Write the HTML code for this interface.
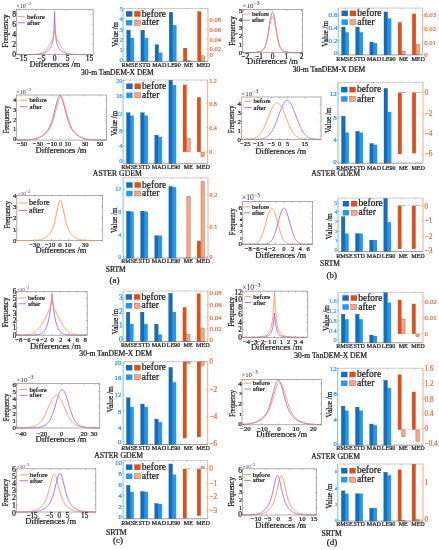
<!DOCTYPE html>
<html lang="en"><head><meta charset="utf-8"><title>DEM differences before and after correction</title>
<style>html,body{margin:0;padding:0;background:#fff}body{width:439px;height:550px;overflow:hidden}svg{display:block}text{font-family:"Liberation Serif","DejaVu Serif",serif;stroke-width:.24px}</style></head><body>
<svg width="439" height="550" viewBox="0 0 439 550">
<rect width="439" height="550" fill="#fff"/>
<polyline points="16.8,54.6 17.3,54.6 17.81,54.6 18.31,54.59 18.81,54.59 19.31,54.59 19.82,54.59 20.32,54.59 20.82,54.59 21.32,54.59 21.83,54.59 22.33,54.59 22.83,54.59 23.33,54.58 23.84,54.58 24.34,54.58 24.84,54.58 25.35,54.57 25.85,54.57 26.35,54.57 26.85,54.56 27.36,54.56 27.86,54.56 28.36,54.55 28.86,54.54 29.37,54.54 29.87,54.53 30.37,54.52 30.87,54.51 31.38,54.5 31.88,54.49 32.38,54.48 32.88,54.46 33.39,54.45 33.89,54.43 34.39,54.41 34.9,54.39 35.4,54.36 35.9,54.33 36.4,54.3 36.91,54.27 37.41,54.23 37.91,54.18 38.41,54.13 38.92,54.08 39.42,54.02 39.92,53.95 40.42,53.87 40.93,53.78 41.43,53.69 41.93,53.58 42.44,53.46 42.94,53.32 43.44,53.17 43.94,53 44.45,52.82 44.95,52.6 45.45,52.37 45.95,52.11 46.46,51.81 46.96,51.48 47.46,51.11 47.96,50.7 48.47,50.24 48.97,49.72 49.47,49.13 49.97,48.47 50.48,47.71 50.98,46.83 51.48,45.78 51.99,44.46 52.49,42.69 52.99,40.12 53.49,36.01 54,28.91 54.35,20.6 54.35,20.6 54.5,15.82 54.6,12 54.6,12 54.85,20.6 54.85,20.6 55,24.61 55.5,33.63 56.01,38.71 56.51,41.78 57.01,43.81 57.51,45.29 58.02,46.43 58.52,47.37 59.02,48.18 59.53,48.87 60.03,49.49 60.53,50.03 61.03,50.52 61.54,50.95 62.04,51.34 62.54,51.68 63.04,51.99 63.55,52.27 64.05,52.51 64.55,52.73 65.05,52.93 65.56,53.11 66.06,53.26 66.56,53.41 67.06,53.53 67.57,53.65 68.07,53.75 68.57,53.84 69.08,53.92 69.58,53.99 70.08,54.05 70.58,54.11 71.09,54.16 71.59,54.21 72.09,54.25 72.59,54.29 73.1,54.32 73.6,54.35 74.1,54.38 74.6,54.4 75.11,54.42 75.61,54.44 76.11,54.46 76.62,54.47 77.12,54.49 77.62,54.5 78.12,54.51 78.63,54.52 79.13,54.53 79.63,54.53 80.13,54.54 80.64,54.55 81.14,54.55 81.64,54.56 82.14,54.56 82.65,54.57 83.15,54.57 83.65,54.57 84.15,54.58 84.66,54.58 85.16,54.58 85.66,54.58 86.17,54.58 86.67,54.59 87.17,54.59 87.67,54.59 88.18,54.59 88.68,54.59 89.18,54.59 89.68,54.59 90.19,54.59 90.69,54.59 91.19,54.59 91.69,54.6 92.2,54.6 92.7,54.6" fill="none" stroke="#9c6ad8" stroke-width="0.9" stroke-linejoin="round"/>
<polyline points="16.8,54.6 17.3,54.6 17.81,54.6 18.31,54.6 18.81,54.6 19.31,54.6 19.82,54.6 20.32,54.6 20.82,54.6 21.32,54.6 21.83,54.6 22.33,54.6 22.83,54.6 23.33,54.6 23.84,54.6 24.34,54.6 24.84,54.6 25.35,54.6 25.85,54.6 26.35,54.6 26.85,54.6 27.36,54.6 27.86,54.6 28.36,54.6 28.86,54.6 29.37,54.6 29.87,54.6 30.37,54.6 30.87,54.6 31.38,54.59 31.88,54.59 32.38,54.59 32.88,54.58 33.39,54.58 33.89,54.57 34.39,54.56 34.9,54.54 35.4,54.53 35.9,54.5 36.4,54.47 36.91,54.44 37.41,54.39 37.91,54.34 38.41,54.27 38.92,54.18 39.42,54.08 39.92,53.96 40.42,53.82 40.93,53.65 41.43,53.45 41.93,53.21 42.44,52.95 42.94,52.64 43.44,52.29 43.94,51.91 44.45,51.47 44.95,51 45.45,50.48 45.95,49.91 46.46,49.31 46.96,48.66 47.46,47.98 47.96,47.27 48.47,46.53 48.97,45.76 49.47,44.97 49.97,44.16 50.48,43.32 50.98,42.44 51.48,41.51 51.99,40.5 52.49,39.36 52.99,38.03 53.49,36.39 54,34.31 54.5,31.57 54.55,31.25 54.55,31.25 54.8,29.5 54.8,29.5 55,30.93 55.05,31.25 55.05,31.25 55.5,33.83 56.01,36.02 56.51,37.73 57.01,39.12 57.51,40.29 58.02,41.32 58.52,42.26 59.02,43.15 59.53,43.99 60.03,44.81 60.53,45.6 61.03,46.37 61.54,47.12 62.04,47.84 62.54,48.53 63.04,49.18 63.55,49.8 64.05,50.37 64.55,50.9 65.05,51.38 65.56,51.82 66.06,52.22 66.56,52.57 67.06,52.89 67.57,53.16 68.07,53.4 68.57,53.61 69.08,53.78 69.58,53.93 70.08,54.06 70.58,54.17 71.09,54.25 71.59,54.32 72.09,54.38 72.59,54.43 73.1,54.47 73.6,54.5 74.1,54.52 74.6,54.54 75.11,54.56 75.61,54.57 76.11,54.57 76.62,54.58 77.12,54.59 77.62,54.59 78.12,54.59 78.63,54.59 79.13,54.6 79.63,54.6 80.13,54.6 80.64,54.6 81.14,54.6 81.64,54.6 82.14,54.6 82.65,54.6 83.15,54.6 83.65,54.6 84.15,54.6 84.66,54.6 85.16,54.6 85.66,54.6 86.17,54.6 86.67,54.6 87.17,54.6 87.67,54.6 88.18,54.6 88.68,54.6 89.18,54.6 89.68,54.6 90.19,54.6 90.69,54.6 91.19,54.6 91.69,54.6 92.2,54.6 92.7,54.6" fill="none" stroke="#fb9058" stroke-width="0.9" stroke-linejoin="round"/>
<rect x="16.3" y="9.3" width="76.9" height="45.3" fill="none" stroke="#8a8a8a" stroke-width="0.7"/>
<path d="M19.5 54.6v-1.6M19.5 9.3v1.6M42.9 54.6v-1.6M42.9 9.3v1.6M54.6 54.6v-1.6M54.6 9.3v1.6M66.3 54.6v-1.6M66.3 9.3v1.6M89.7 54.6v-1.6M89.7 9.3v1.6M16.3 54.6h1.6M93.2 54.6h-1.6M16.3 44.4h1.6M93.2 44.4h-1.6M16.3 34.4h1.6M93.2 34.4h-1.6M16.3 24.4h1.6M93.2 24.4h-1.6M16.3 14.4h1.6M93.2 14.4h-1.6" stroke="#8a8a8a" stroke-width="0.5" fill="none"/>
<text x="21.3" y="60.9" font-size="7.6" fill="#1a1a1a" stroke="#1a1a1a" text-anchor="middle">&#8722;15</text>
<text x="41.4" y="60.9" font-size="7.6" fill="#1a1a1a" stroke="#1a1a1a" text-anchor="middle">&#8722;5</text>
<text x="54.6" y="60.9" font-size="7.6" fill="#1a1a1a" stroke="#1a1a1a" text-anchor="middle">0</text>
<text x="67.7" y="60.9" font-size="7.6" fill="#1a1a1a" stroke="#1a1a1a" text-anchor="middle">5</text>
<text x="89.6" y="60.9" font-size="7.6" fill="#1a1a1a" stroke="#1a1a1a" text-anchor="middle">15</text>
<text x="16" y="57.11" font-size="7.6" fill="#1a1a1a" stroke="#1a1a1a" text-anchor="end">0</text>
<text x="16" y="46.91" font-size="7.6" fill="#1a1a1a" stroke="#1a1a1a" text-anchor="end">2</text>
<text x="16" y="36.91" font-size="7.6" fill="#1a1a1a" stroke="#1a1a1a" text-anchor="end">4</text>
<text x="16" y="26.91" font-size="7.6" fill="#1a1a1a" stroke="#1a1a1a" text-anchor="end">6</text>
<text x="16" y="16.91" font-size="7.6" fill="#1a1a1a" stroke="#1a1a1a" text-anchor="end">8</text>
<text x="55" y="67.2" font-size="8.2" fill="#1a1a1a" stroke="#1a1a1a" text-anchor="middle" textLength="50.91" lengthAdjust="spacingAndGlyphs">Differences /m</text>
<text x="7.7" y="31" font-size="8.96" fill="#1a1a1a" stroke="#1a1a1a" text-anchor="middle" transform="rotate(-90 7.7 31)" textLength="33.6" lengthAdjust="spacingAndGlyphs">Frequency</text>
<text x="16.3" y="7.6" font-size="6" fill="#1a1a1a" text-anchor="start">&#215;10<tspan dy="-2.52" font-size="4.8">&#8722;3</tspan></text>
<path d="M18 16.4h7.2" stroke="#fb9058" stroke-width="0.9"/>
<path d="M18 22.8h7.2" stroke="#9c6ad8" stroke-width="0.9"/>
<text x="27" y="18.5" font-size="7" fill="#1a1a1a" stroke="#1a1a1a" text-anchor="start">before</text>
<text x="27" y="24.9" font-size="7" fill="#1a1a1a" stroke="#1a1a1a" text-anchor="start">after</text>
<rect x="130.35" y="38" width="3.75" height="23.4" fill="#1f9af0"/>
<rect x="126.75" y="30.15" width="3.6" height="31.25" fill="#126dbd" stroke="#0d4f8c" stroke-width="0.3"/>
<rect x="144.5" y="38" width="3.75" height="23.4" fill="#1f9af0"/>
<rect x="140.9" y="30.15" width="3.6" height="31.25" fill="#126dbd" stroke="#0d4f8c" stroke-width="0.3"/>
<rect x="158.65" y="52.6" width="3.75" height="8.8" fill="#1f9af0"/>
<rect x="155.05" y="44.75" width="3.6" height="16.65" fill="#126dbd" stroke="#0d4f8c" stroke-width="0.3"/>
<rect x="172.8" y="25" width="3.75" height="36.4" fill="#1f9af0"/>
<rect x="169.2" y="12.15" width="3.6" height="49.25" fill="#126dbd" stroke="#0d4f8c" stroke-width="0.3"/>
<rect x="183.2" y="48" width="3.75" height="13.4" fill="#df5019"/>
<rect x="187.15" y="60.5" width="3.35" height="0.7" fill="#f4a686" stroke="#a0553a" stroke-width="0.4"/>
<rect x="197.35" y="11.3" width="3.75" height="50.1" fill="#df5019"/>
<rect x="201.3" y="55.8" width="3.35" height="5.4" fill="#f4a686" stroke="#a0553a" stroke-width="0.4"/>
<path d="M123 61.4H208" stroke="#555" stroke-width="0.6" fill="none"/>
<path d="M123 8.5H208" stroke="#9a9a9a" stroke-width="0.5" fill="none"/>
<path d="M123 8.5V61.4" stroke="#3d9be0" stroke-width="0.65" fill="none"/>
<path d="M208 8.5V61.4" stroke="#ee7a4c" stroke-width="0.65" fill="none"/>
<path d="M123 60h1.5M123 50h1.5M123 40h1.5M123 29.5h1.5M123 18.8h1.5M123 8.8h1.5" stroke="#3d9be0" stroke-width="0.5" fill="none"/>
<path d="M208 55h-1.5M208 49.1h-1.5M208 39.4h-1.5M208 29.4h-1.5M208 19.75h-1.5" stroke="#ee7a4c" stroke-width="0.5" fill="none"/>
<path d="M130.35 61.4v-1.3M130.35 8.5v1.3M144.5 61.4v-1.3M144.5 8.5v1.3M158.65 61.4v-1.3M158.65 8.5v1.3M172.8 61.4v-1.3M172.8 8.5v1.3M186.95 61.4v-1.3M186.95 8.5v1.3M201.1 61.4v-1.3M201.1 8.5v1.3" stroke="#777" stroke-width="0.4" fill="none"/>
<text x="123" y="62.24" font-size="6.8" fill="#4aa0e2" stroke="#4aa0e2" text-anchor="end">0</text>
<text x="123" y="52.24" font-size="6.8" fill="#4aa0e2" stroke="#4aa0e2" text-anchor="end">1</text>
<text x="123" y="42.24" font-size="6.8" fill="#4aa0e2" stroke="#4aa0e2" text-anchor="end">2</text>
<text x="123" y="31.74" font-size="6.8" fill="#4aa0e2" stroke="#4aa0e2" text-anchor="end">3</text>
<text x="123" y="21.04" font-size="6.8" fill="#4aa0e2" stroke="#4aa0e2" text-anchor="end">4</text>
<text x="123" y="11.04" font-size="6.8" fill="#4aa0e2" stroke="#4aa0e2" text-anchor="end">5</text>
<text x="209.6" y="57.18" font-size="6.6" fill="#e4703f" stroke="#e4703f" text-anchor="start">0</text>
<text x="209.6" y="51.28" font-size="6.6" fill="#e4703f" stroke="#e4703f" text-anchor="start">0.02</text>
<text x="209.6" y="41.58" font-size="6.6" fill="#e4703f" stroke="#e4703f" text-anchor="start">0.04</text>
<text x="209.6" y="31.58" font-size="6.6" fill="#e4703f" stroke="#e4703f" text-anchor="start">0.06</text>
<text x="209.6" y="21.93" font-size="6.6" fill="#e4703f" stroke="#e4703f" text-anchor="start">0.08</text>
<text x="129.85" y="67.2" font-size="6.1" fill="#1a1a1a" stroke="#1a1a1a" text-anchor="middle">RMSE</text>
<text x="144.55" y="67.2" font-size="6.1" fill="#1a1a1a" stroke="#1a1a1a" text-anchor="middle">STD</text>
<text x="159.25" y="67.2" font-size="6.1" fill="#1a1a1a" stroke="#1a1a1a" text-anchor="middle">MAD</text>
<text x="173.95" y="67.2" font-size="6.1" fill="#1a1a1a" stroke="#1a1a1a" text-anchor="middle">LE90</text>
<text x="188.65" y="67.2" font-size="6.1" fill="#1a1a1a" stroke="#1a1a1a" text-anchor="middle">ME</text>
<text x="203.35" y="67.2" font-size="6.1" fill="#1a1a1a" stroke="#1a1a1a" text-anchor="middle">MED</text>
<text x="118.4" y="34.4" font-size="9.2" fill="#1a1a1a" stroke="#1a1a1a" text-anchor="middle" transform="rotate(-90 118.4 34.4)" textLength="24.85" lengthAdjust="spacingAndGlyphs">Value /m</text>
<rect x="126" y="11.2" width="6.4" height="5.5" fill="#126dbd"/>
<rect x="134.2" y="11.2" width="6.4" height="5.5" fill="#df5019"/>
<rect x="126" y="20" width="6.4" height="5.5" fill="#1f9af0"/>
<rect x="134.4" y="20.2" width="6" height="5.1" fill="#f4a686" stroke="#a0553a" stroke-width="0.4"/>
<text x="141.8" y="16.6" font-size="9.5" fill="#1a1a1a" stroke="#1a1a1a" text-anchor="start">before</text>
<text x="141.8" y="25.4" font-size="9.5" fill="#1a1a1a" stroke="#1a1a1a" text-anchor="start">after</text>
<text x="117.4" y="75.3" font-size="7.6" fill="#1a1a1a" stroke="#1a1a1a" text-anchor="middle">30-m TanDEM-X DEM</text>
<polyline points="16.8,140.08 17.3,140.08 17.8,140.08 18.3,140.07 18.8,140.07 19.3,140.06 19.8,140.06 20.3,140.05 20.8,140.04 21.31,140.04 21.81,140.03 22.31,140.02 22.81,140.01 23.31,139.99 23.81,139.98 24.31,139.96 24.81,139.94 25.31,139.92 25.81,139.9 26.31,139.88 26.81,139.85 27.31,139.82 27.81,139.78 28.31,139.75 28.81,139.71 29.31,139.66 29.81,139.61 30.32,139.56 30.82,139.5 31.32,139.43 31.82,139.36 32.32,139.28 32.82,139.2 33.32,139.11 33.82,139.01 34.32,138.9 34.82,138.79 35.32,138.66 35.82,138.53 36.32,138.38 36.82,138.23 37.32,138.06 37.82,137.88 38.32,137.69 38.82,137.49 39.33,137.27 39.83,137.03 40.33,136.78 40.83,136.52 41.33,136.23 41.83,135.92 42.33,135.6 42.83,135.25 43.33,134.87 43.83,134.47 44.33,134.04 44.83,133.57 45.33,133.07 45.83,132.53 46.33,131.95 46.83,131.32 47.33,130.64 47.83,129.89 48.34,129.09 48.84,128.21 49.34,127.25 49.84,126.21 50.34,125.07 50.84,123.84 51.34,122.5 51.84,121.05 52.34,119.49 52.84,117.82 53.34,116.04 53.84,114.17 54.34,112.21 54.84,110.19 55.34,108.14 55.84,106.08 56.34,104.08 56.84,102.16 57.35,100.39 57.85,98.82 58.35,97.51 58.85,96.49 59.35,95.82 59.75,95.55 59.75,95.55 59.85,95.52 60,95.5 60,95.5 60.25,95.55 60.25,95.55 60.35,95.59 60.85,96.04 61.35,96.85 61.85,97.99 62.35,99.41 62.85,101.07 63.35,102.9 63.85,104.86 64.35,106.89 64.85,108.95 65.35,110.99 65.86,112.99 66.36,114.92 66.86,116.76 67.36,118.49 67.86,120.12 68.36,121.63 68.86,123.04 69.36,124.33 69.86,125.53 70.36,126.63 70.86,127.64 71.36,128.56 71.86,129.41 72.36,130.19 72.86,130.91 73.36,131.58 73.86,132.19 74.36,132.75 74.87,133.28 75.37,133.76 75.87,134.21 76.37,134.63 76.87,135.02 77.37,135.39 77.87,135.73 78.37,136.05 78.87,136.35 79.37,136.62 79.87,136.88 80.37,137.13 80.87,137.36 81.37,137.57 81.87,137.77 82.37,137.95 82.87,138.13 83.37,138.29 83.88,138.44 84.38,138.58 84.88,138.71 85.38,138.83 85.88,138.94 86.38,139.05 86.88,139.14 87.38,139.23 87.88,139.31 88.38,139.39 88.88,139.46 89.38,139.52 89.88,139.58 90.38,139.63 90.88,139.68 91.38,139.72 91.88,139.76 92.38,139.8 92.89,139.83 93.39,139.86 93.89,139.89 94.39,139.91 94.89,139.93 95.39,139.95 95.89,139.97 96.39,139.98 96.89,140 97.39,140.01 97.89,140.02 98.39,140.03 98.89,140.04 99.39,140.05 99.89,140.05 100.39,140.06 100.89,140.07 101.39,140.07 101.9,140.07 102.4,140.08 102.9,140.08 103.4,140.08 103.9,140.09 104.4,140.09 104.9,140.09 105.4,140.09 105.9,140.09" fill="none" stroke="#9c6ad8" stroke-width="0.9" stroke-linejoin="round"/>
<polyline points="16.8,140.09 17.3,140.09 17.8,140.08 18.3,140.08 18.8,140.08 19.3,140.07 19.8,140.07 20.3,140.06 20.8,140.06 21.31,140.05 21.81,140.05 22.31,140.04 22.81,140.03 23.31,140.02 23.81,140.01 24.31,139.99 24.81,139.98 25.31,139.96 25.81,139.95 26.31,139.93 26.81,139.9 27.31,139.88 27.81,139.85 28.31,139.82 28.81,139.79 29.31,139.75 29.81,139.71 30.32,139.67 30.82,139.62 31.32,139.56 31.82,139.5 32.32,139.44 32.82,139.37 33.32,139.29 33.82,139.21 34.32,139.12 34.82,139.02 35.32,138.92 35.82,138.8 36.32,138.68 36.82,138.55 37.32,138.4 37.82,138.25 38.32,138.08 38.82,137.91 39.33,137.72 39.83,137.51 40.33,137.29 40.83,137.06 41.33,136.81 41.83,136.54 42.33,136.26 42.83,135.95 43.33,135.62 43.83,135.27 44.33,134.89 44.83,134.48 45.33,134.05 45.83,133.58 46.33,133.07 46.83,132.53 47.33,131.94 47.83,131.3 48.34,130.6 48.84,129.85 49.34,129.04 49.84,128.15 50.34,127.19 50.84,126.14 51.34,125.01 51.84,123.79 52.34,122.46 52.84,121.04 53.34,119.52 53.84,117.89 54.34,116.18 54.84,114.38 55.34,112.52 55.84,110.62 56.34,108.7 56.84,106.8 57.35,104.96 57.85,103.22 58.35,101.64 58.85,100.25 59.35,99.11 59.85,98.25 60.35,97.71 60.65,97.54 60.65,97.54 60.85,97.5 60.9,97.5 60.9,97.5 61.15,97.54 61.15,97.54 61.35,97.64 61.85,98.12 62.35,98.91 62.85,100 63.35,101.34 63.85,102.89 64.35,104.6 64.85,106.42 65.35,108.32 65.86,110.23 66.36,112.14 66.86,114.01 67.36,115.82 67.86,117.55 68.36,119.2 68.86,120.74 69.36,122.18 69.86,123.53 70.36,124.77 70.86,125.92 71.36,126.99 71.86,127.96 72.36,128.86 72.86,129.69 73.36,130.46 73.86,131.16 74.36,131.81 74.87,132.41 75.37,132.97 75.87,133.48 76.37,133.96 76.87,134.4 77.37,134.81 77.87,135.19 78.37,135.55 78.87,135.89 79.37,136.2 79.87,136.49 80.37,136.76 80.87,137.01 81.37,137.25 81.87,137.47 82.37,137.68 82.87,137.87 83.37,138.05 83.88,138.22 84.38,138.37 84.88,138.52 85.38,138.65 85.88,138.78 86.38,138.89 86.88,139 87.38,139.1 87.88,139.19 88.38,139.28 88.88,139.35 89.38,139.43 89.88,139.49 90.38,139.55 90.88,139.61 91.38,139.66 91.88,139.7 92.38,139.74 92.89,139.78 93.39,139.82 93.89,139.85 94.39,139.87 94.89,139.9 95.39,139.92 95.89,139.94 96.39,139.96 96.89,139.98 97.39,139.99 97.89,140 98.39,140.02 98.89,140.03 99.39,140.04 99.89,140.04 100.39,140.05 100.89,140.06 101.39,140.06 101.9,140.07 102.4,140.07 102.9,140.08 103.4,140.08 103.9,140.08 104.4,140.08 104.9,140.09 105.4,140.09 105.9,140.09" fill="none" stroke="#fb9058" stroke-width="0.9" stroke-linejoin="round"/>
<rect x="16.3" y="95" width="90.1" height="45.1" fill="none" stroke="#8a8a8a" stroke-width="0.7"/>
<path d="M20.4 140.1v-1.6M20.4 95v1.6M36.4 140.1v-1.6M36.4 95v1.6M52.4 140.1v-1.6M52.4 95v1.6M60.4 140.1v-1.6M60.4 95v1.6M68.4 140.1v-1.6M68.4 95v1.6M84.4 140.1v-1.6M84.4 95v1.6M100.4 140.1v-1.6M100.4 95v1.6M16.3 139.3h1.6M106.4 139.3h-1.6M16.3 129.3h1.6M106.4 129.3h-1.6M16.3 119.9h1.6M106.4 119.9h-1.6M16.3 110.3h1.6M106.4 110.3h-1.6M16.3 100.5h1.6M106.4 100.5h-1.6" stroke="#8a8a8a" stroke-width="0.5" fill="none"/>
<text x="22" y="146.4" font-size="6.6" fill="#1a1a1a" stroke="#1a1a1a" text-anchor="middle">&#8722;50</text>
<text x="38" y="146.4" font-size="6.6" fill="#1a1a1a" stroke="#1a1a1a" text-anchor="middle">&#8722;30</text>
<text x="52" y="146.4" font-size="6.6" fill="#1a1a1a" stroke="#1a1a1a" text-anchor="middle">&#8722;10</text>
<text x="60.6" y="146.4" font-size="6.6" fill="#1a1a1a" stroke="#1a1a1a" text-anchor="middle">0</text>
<text x="67.7" y="146.4" font-size="6.6" fill="#1a1a1a" stroke="#1a1a1a" text-anchor="middle">10</text>
<text x="85" y="146.4" font-size="6.6" fill="#1a1a1a" stroke="#1a1a1a" text-anchor="middle">30</text>
<text x="100" y="146.4" font-size="6.6" fill="#1a1a1a" stroke="#1a1a1a" text-anchor="middle">50</text>
<text x="16" y="141.15" font-size="5.6" fill="#1a1a1a" stroke="#1a1a1a" text-anchor="end">0</text>
<text x="16" y="131.15" font-size="5.6" fill="#1a1a1a" stroke="#1a1a1a" text-anchor="end">1</text>
<text x="16" y="121.75" font-size="5.6" fill="#1a1a1a" stroke="#1a1a1a" text-anchor="end">2</text>
<text x="16" y="112.15" font-size="5.6" fill="#1a1a1a" stroke="#1a1a1a" text-anchor="end">3</text>
<text x="16" y="102.35" font-size="5.6" fill="#1a1a1a" stroke="#1a1a1a" text-anchor="end">4</text>
<text x="61" y="152.8" font-size="8.2" fill="#1a1a1a" stroke="#1a1a1a" text-anchor="middle" textLength="50.91" lengthAdjust="spacingAndGlyphs">Differences /m</text>
<text x="9.2" y="119.5" font-size="7.5" fill="#1a1a1a" stroke="#1a1a1a" text-anchor="middle" transform="rotate(-90 9.2 119.5)" textLength="28.14" lengthAdjust="spacingAndGlyphs">Frequency</text>
<text x="16.3" y="93.6" font-size="6" fill="#1a1a1a" text-anchor="start">&#215;10<tspan dy="-2.52" font-size="4.8">&#8722;3</tspan></text>
<path d="M20 100.2h7.6" stroke="#fb9058" stroke-width="0.9"/>
<path d="M20 106.7h7.6" stroke="#9c6ad8" stroke-width="0.9"/>
<text x="29.4" y="102.24" font-size="6.8" fill="#1a1a1a" stroke="#1a1a1a" text-anchor="start">before</text>
<text x="29.4" y="108.74" font-size="6.8" fill="#1a1a1a" stroke="#1a1a1a" text-anchor="start">after</text>
<rect x="130.05" y="115.5" width="3.75" height="48.25" fill="#1f9af0"/>
<rect x="126.45" y="112.75" width="3.6" height="51" fill="#126dbd" stroke="#0d4f8c" stroke-width="0.3"/>
<rect x="144.2" y="115.5" width="3.75" height="48.25" fill="#1f9af0"/>
<rect x="140.6" y="112.75" width="3.6" height="51" fill="#126dbd" stroke="#0d4f8c" stroke-width="0.3"/>
<rect x="158.35" y="136.9" width="3.75" height="26.85" fill="#1f9af0"/>
<rect x="154.75" y="135.25" width="3.6" height="28.5" fill="#126dbd" stroke="#0d4f8c" stroke-width="0.3"/>
<rect x="172.5" y="85" width="3.75" height="78.75" fill="#1f9af0"/>
<rect x="168.9" y="80.15" width="3.6" height="83.6" fill="#126dbd" stroke="#0d4f8c" stroke-width="0.3"/>
<rect x="182.9" y="84.75" width="3.75" height="67.15" fill="#df5019"/>
<rect x="186.85" y="138.6" width="3.35" height="13.1" fill="#f4a686" stroke="#a0553a" stroke-width="0.4"/>
<rect x="197.05" y="97.25" width="3.75" height="54.65" fill="#df5019"/>
<rect x="201" y="152.1" width="3.35" height="4.7" fill="#f4a686" stroke="#a0553a" stroke-width="0.4"/>
<path d="M181.9 151.9H207.6" stroke="#ee7a4c" stroke-width="0.5" stroke-dasharray="0.8 0.8" opacity="0.8"/>
<path d="M123.1 163.75H207.6" stroke="#555" stroke-width="0.6" fill="none"/>
<path d="M123.1 80H207.6" stroke="#9a9a9a" stroke-width="0.5" fill="none"/>
<path d="M123.1 80V163.75" stroke="#3d9be0" stroke-width="0.65" fill="none"/>
<path d="M207.6 80V163.75" stroke="#ee7a4c" stroke-width="0.65" fill="none"/>
<path d="M123.1 161.4h1.5M123.1 146h1.5M123.1 130.5h1.5M123.1 113.9h1.5M123.1 96.4h1.5M123.1 80.5h1.5" stroke="#3d9be0" stroke-width="0.5" fill="none"/>
<path d="M207.6 151.9h-1.5M207.6 127.5h-1.5M207.6 103.5h-1.5M207.6 80.6h-1.5" stroke="#ee7a4c" stroke-width="0.5" fill="none"/>
<path d="M130.05 163.75v-1.3M130.05 80v1.3M144.2 163.75v-1.3M144.2 80v1.3M158.35 163.75v-1.3M158.35 80v1.3M172.5 163.75v-1.3M172.5 80v1.3M186.65 163.75v-1.3M186.65 80v1.3M200.8 163.75v-1.3M200.8 80v1.3" stroke="#777" stroke-width="0.4" fill="none"/>
<text x="122.5" y="163.48" font-size="6.3" fill="#3f9ae3" stroke="#3f9ae3" text-anchor="end">0</text>
<text x="122.5" y="148.08" font-size="6.3" fill="#3f9ae3" stroke="#3f9ae3" text-anchor="end">4</text>
<text x="122.5" y="132.58" font-size="6.3" fill="#3f9ae3" stroke="#3f9ae3" text-anchor="end">8</text>
<text x="122.5" y="115.98" font-size="6.3" fill="#3f9ae3" stroke="#3f9ae3" text-anchor="end">12</text>
<text x="122.5" y="98.48" font-size="6.3" fill="#3f9ae3" stroke="#3f9ae3" text-anchor="end">16</text>
<text x="122.5" y="82.58" font-size="6.3" fill="#3f9ae3" stroke="#3f9ae3" text-anchor="end">20</text>
<text x="209.2" y="153.95" font-size="6.2" fill="#e4703f" stroke="#e4703f" text-anchor="start">0</text>
<text x="209.2" y="129.55" font-size="6.2" fill="#e4703f" stroke="#e4703f" text-anchor="start">0.4</text>
<text x="209.2" y="105.55" font-size="6.2" fill="#e4703f" stroke="#e4703f" text-anchor="start">0.8</text>
<text x="209.2" y="82.65" font-size="6.2" fill="#e4703f" stroke="#e4703f" text-anchor="start">1.2</text>
<text x="129.55" y="169" font-size="6.1" fill="#1a1a1a" stroke="#1a1a1a" text-anchor="middle">RMSE</text>
<text x="144.25" y="169" font-size="6.1" fill="#1a1a1a" stroke="#1a1a1a" text-anchor="middle">STD</text>
<text x="158.95" y="169" font-size="6.1" fill="#1a1a1a" stroke="#1a1a1a" text-anchor="middle">MAD</text>
<text x="173.65" y="169" font-size="6.1" fill="#1a1a1a" stroke="#1a1a1a" text-anchor="middle">LE90</text>
<text x="188.35" y="169" font-size="6.1" fill="#1a1a1a" stroke="#1a1a1a" text-anchor="middle">ME</text>
<text x="203.05" y="169" font-size="6.1" fill="#1a1a1a" stroke="#1a1a1a" text-anchor="middle">MED</text>
<text x="116.9" y="123.25" font-size="9.2" fill="#1a1a1a" stroke="#1a1a1a" text-anchor="middle" transform="rotate(-90 116.9 123.25)" textLength="24.85" lengthAdjust="spacingAndGlyphs">Value /m</text>
<rect x="126.25" y="83.5" width="6.4" height="5.5" fill="#126dbd"/>
<rect x="134.45" y="83.5" width="6.4" height="5.5" fill="#df5019"/>
<rect x="126.25" y="92.6" width="6.4" height="5.5" fill="#1f9af0"/>
<rect x="134.65" y="92.8" width="6" height="5.1" fill="#f4a686" stroke="#a0553a" stroke-width="0.4"/>
<text x="142.05" y="88.9" font-size="9.5" fill="#1a1a1a" stroke="#1a1a1a" text-anchor="start">before</text>
<text x="142.05" y="98" font-size="9.5" fill="#1a1a1a" stroke="#1a1a1a" text-anchor="start">after</text>
<text x="117.3" y="175.9" font-size="7.7" fill="#1a1a1a" stroke="#1a1a1a" text-anchor="middle">ASTER GDEM</text>
<rect x="16.8" y="195.5" width="85.9" height="45" fill="none" stroke="#8a8a8a" stroke-width="0.7"/>
<path d="M34.8 240.5v-1.6M34.8 195.5v1.6M51.6 240.5v-1.6M51.6 195.5v1.6M60 240.5v-1.6M60 195.5v1.6M68.4 240.5v-1.6M68.4 195.5v1.6M85.2 240.5v-1.6M85.2 195.5v1.6M16.8 240.7h1.6M102.7 240.7h-1.6M16.8 229.3h1.6M102.7 229.3h-1.6M16.8 217.9h1.6M102.7 217.9h-1.6M16.8 206.5h1.6M102.7 206.5h-1.6M16.8 195.5h1.6M102.7 195.5h-1.6" stroke="#8a8a8a" stroke-width="0.5" fill="none"/>
<text x="34.6" y="246.8" font-size="6.8" fill="#1a1a1a" stroke="#1a1a1a" text-anchor="middle">&#8722;30</text>
<text x="50" y="246.8" font-size="6.8" fill="#1a1a1a" stroke="#1a1a1a" text-anchor="middle">&#8722;10</text>
<text x="60" y="246.8" font-size="6.8" fill="#1a1a1a" stroke="#1a1a1a" text-anchor="middle">0</text>
<text x="68" y="246.8" font-size="6.8" fill="#1a1a1a" stroke="#1a1a1a" text-anchor="middle">10</text>
<text x="85.2" y="246.8" font-size="6.8" fill="#1a1a1a" stroke="#1a1a1a" text-anchor="middle">30</text>
<text x="16.5" y="242.94" font-size="6.8" fill="#1a1a1a" stroke="#1a1a1a" text-anchor="end">0</text>
<text x="16.5" y="231.54" font-size="6.8" fill="#1a1a1a" stroke="#1a1a1a" text-anchor="end">1</text>
<text x="16.5" y="220.14" font-size="6.8" fill="#1a1a1a" stroke="#1a1a1a" text-anchor="end">2</text>
<text x="16.5" y="208.74" font-size="6.8" fill="#1a1a1a" stroke="#1a1a1a" text-anchor="end">3</text>
<text x="16.5" y="197.74" font-size="6.8" fill="#1a1a1a" stroke="#1a1a1a" text-anchor="end">4</text>
<text x="61" y="252.7" font-size="8.2" fill="#1a1a1a" stroke="#1a1a1a" text-anchor="middle" textLength="50.91" lengthAdjust="spacingAndGlyphs">Differences /m</text>
<text x="9.8" y="214.8" font-size="7.39" fill="#1a1a1a" stroke="#1a1a1a" text-anchor="middle" transform="rotate(-90 9.8 214.8)" textLength="27.72" lengthAdjust="spacingAndGlyphs">Frequency</text>
<text x="18" y="195.4" font-size="5" fill="#1a1a1a" text-anchor="start">&#215;10<tspan dy="-2.1" font-size="4">&#8722;3</tspan></text>
<path d="M18.8 203h8.4" stroke="#fb9058" stroke-width="0.9"/>
<path d="M18.8 210.5h8.4" stroke="#9c6ad8" stroke-width="0.9"/>
<text x="29" y="205.43" font-size="8.1" fill="#1a1a1a" stroke="#1a1a1a" text-anchor="start">before</text>
<text x="29" y="212.93" font-size="8.1" fill="#1a1a1a" stroke="#1a1a1a" text-anchor="start">after</text>
<polyline points="17.3,240.5 17.8,240.5 18.3,240.5 18.81,240.5 19.31,240.5 19.81,240.5 20.31,240.5 20.82,240.5 21.32,240.5 21.82,240.5 22.32,240.5 22.83,240.5 23.33,240.5 23.83,240.5 24.33,240.5 24.84,240.5 25.34,240.49 25.84,240.49 26.34,240.49 26.84,240.49 27.35,240.49 27.85,240.48 28.35,240.48 28.85,240.48 29.36,240.47 29.86,240.47 30.36,240.46 30.86,240.45 31.37,240.44 31.87,240.43 32.37,240.42 32.87,240.4 33.38,240.38 33.88,240.36 34.38,240.34 34.88,240.31 35.39,240.28 35.89,240.24 36.39,240.2 36.89,240.15 37.39,240.09 37.9,240.03 38.4,239.96 38.9,239.88 39.4,239.79 39.91,239.69 40.41,239.58 40.91,239.46 41.41,239.32 41.92,239.17 42.42,239.01 42.92,238.82 43.42,238.62 43.93,238.4 44.43,238.16 44.93,237.9 45.43,237.61 45.93,237.3 46.44,236.95 46.94,236.58 47.44,236.17 47.94,235.72 48.45,235.23 48.95,234.69 49.45,234.09 49.95,233.43 50.46,232.69 50.96,231.87 51.46,230.95 51.96,229.92 52.47,228.77 52.97,227.47 53.47,226.01 53.97,224.38 54.48,222.56 54.98,220.55 55.48,218.37 55.98,216.02 56.48,213.56 56.99,211.03 57.49,208.53 57.99,206.15 58.49,204.02 59,202.27 59.5,201 60,200.31 60.05,200.28 60.05,200.28 60.3,200.2 60.3,200.2 60.5,200.25 60.55,200.28 60.55,200.28 61.01,200.83 61.51,201.99 62.01,203.66 62.51,205.73 63.02,208.06 63.52,210.55 64.02,213.08 64.52,215.56 65.02,217.94 65.53,220.15 66.03,222.19 66.53,224.05 67.03,225.71 67.54,227.2 68.04,228.53 68.54,229.71 69.04,230.77 69.55,231.71 70.05,232.54 70.55,233.3 71.05,233.97 71.56,234.58 72.06,235.13 72.56,235.63 73.06,236.09 73.57,236.51 74.07,236.89 74.57,237.23 75.07,237.55 75.57,237.85 76.08,238.11 76.58,238.36 77.08,238.58 77.58,238.79 78.09,238.97 78.59,239.14 79.09,239.3 79.59,239.43 80.1,239.56 80.6,239.67 81.1,239.77 81.6,239.86 82.11,239.95 82.61,240.02 83.11,240.08 83.61,240.14 84.11,240.19 84.62,240.23 85.12,240.27 85.62,240.3 86.12,240.33 86.63,240.36 87.13,240.38 87.63,240.4 88.13,240.41 88.64,240.43 89.14,240.44 89.64,240.45 90.14,240.46 90.65,240.47 91.15,240.47 91.65,240.48 92.15,240.48 92.66,240.48 93.16,240.49 93.66,240.49 94.16,240.49 94.66,240.49 95.17,240.49 95.67,240.5 96.17,240.5 96.67,240.5 97.18,240.5 97.68,240.5 98.18,240.5 98.68,240.5 99.19,240.5 99.69,240.5 100.19,240.5 100.69,240.5 101.2,240.5 101.7,240.5 102.2,240.5" fill="none" stroke="#fb9058" stroke-width="0.9" stroke-linejoin="round"/>
<rect x="130.05" y="211.5" width="3.75" height="46.6" fill="#1f9af0"/>
<rect x="126.45" y="211.15" width="3.6" height="46.95" fill="#126dbd" stroke="#0d4f8c" stroke-width="0.3"/>
<rect x="144.2" y="211.5" width="3.75" height="46.6" fill="#1f9af0"/>
<rect x="140.6" y="211.15" width="3.6" height="46.95" fill="#126dbd" stroke="#0d4f8c" stroke-width="0.3"/>
<rect x="158.35" y="235.6" width="3.75" height="22.5" fill="#1f9af0"/>
<rect x="154.75" y="235.75" width="3.6" height="22.35" fill="#126dbd" stroke="#0d4f8c" stroke-width="0.3"/>
<rect x="172.5" y="187.1" width="3.75" height="71" fill="#1f9af0"/>
<rect x="168.9" y="186.4" width="3.6" height="71.7" fill="#126dbd" stroke="#0d4f8c" stroke-width="0.3"/>
<path d="M182.9 258.1h3.75" stroke="#888" stroke-width="0.6"/>
<rect x="186.85" y="196.45" width="3.35" height="61.45" fill="#f4a686" stroke="#a0553a" stroke-width="0.4"/>
<rect x="197.05" y="240.9" width="3.75" height="17.2" fill="#df5019"/>
<rect x="201" y="181.45" width="3.35" height="76.45" fill="#f4a686" stroke="#a0553a" stroke-width="0.4"/>
<path d="M123.1 258.1H208" stroke="#555" stroke-width="0.6" fill="none"/>
<path d="M123.1 177.75H208" stroke="#9a9a9a" stroke-width="0.5" fill="none"/>
<path d="M123.1 177.75V258.1" stroke="#3d9be0" stroke-width="0.65" fill="none"/>
<path d="M208 177.75V258.1" stroke="#ee7a4c" stroke-width="0.65" fill="none"/>
<path d="M123.1 256.9h1.5M123.1 235.25h1.5M123.1 211.9h1.5M123.1 189.3h1.5" stroke="#3d9be0" stroke-width="0.5" fill="none"/>
<path d="M208 256.5h-1.5M208 226.5h-1.5M208 194.75h-1.5" stroke="#ee7a4c" stroke-width="0.5" fill="none"/>
<path d="M130.05 258.1v-1.3M130.05 177.75v1.3M144.2 258.1v-1.3M144.2 177.75v1.3M158.35 258.1v-1.3M158.35 177.75v1.3M172.5 258.1v-1.3M172.5 177.75v1.3M186.65 258.1v-1.3M186.65 177.75v1.3M200.8 258.1v-1.3M200.8 177.75v1.3" stroke="#777" stroke-width="0.4" fill="none"/>
<text x="121.3" y="258.88" font-size="6" fill="#3f9ae3" stroke="#3f9ae3" text-anchor="end">0</text>
<text x="121.3" y="237.23" font-size="6" fill="#3f9ae3" stroke="#3f9ae3" text-anchor="end">4</text>
<text x="121.3" y="213.88" font-size="6" fill="#3f9ae3" stroke="#3f9ae3" text-anchor="end">8</text>
<text x="121.3" y="191.28" font-size="6" fill="#3f9ae3" stroke="#3f9ae3" text-anchor="end">12</text>
<text x="209.6" y="258.55" font-size="6.2" fill="#e4703f" stroke="#e4703f" text-anchor="start">0</text>
<text x="209.6" y="228.55" font-size="6.2" fill="#e4703f" stroke="#e4703f" text-anchor="start">0.1</text>
<text x="209.6" y="196.8" font-size="6.2" fill="#e4703f" stroke="#e4703f" text-anchor="start">0.2</text>
<text x="129.55" y="263.4" font-size="6.1" fill="#1a1a1a" stroke="#1a1a1a" text-anchor="middle">RMSE</text>
<text x="144.25" y="263.4" font-size="6.1" fill="#1a1a1a" stroke="#1a1a1a" text-anchor="middle">STD</text>
<text x="158.95" y="263.4" font-size="6.1" fill="#1a1a1a" stroke="#1a1a1a" text-anchor="middle">MAD</text>
<text x="173.65" y="263.4" font-size="6.1" fill="#1a1a1a" stroke="#1a1a1a" text-anchor="middle">LE90</text>
<text x="188.35" y="263.4" font-size="6.1" fill="#1a1a1a" stroke="#1a1a1a" text-anchor="middle">ME</text>
<text x="203.05" y="263.4" font-size="6.1" fill="#1a1a1a" stroke="#1a1a1a" text-anchor="middle">MED</text>
<text x="116.65" y="220.3" font-size="9.2" fill="#1a1a1a" stroke="#1a1a1a" text-anchor="middle" transform="rotate(-90 116.65 220.3)" textLength="25.56" lengthAdjust="spacingAndGlyphs">Value /m</text>
<rect x="126.25" y="182.25" width="6.4" height="5.5" fill="#126dbd"/>
<rect x="134.45" y="182.25" width="6.4" height="5.5" fill="#df5019"/>
<rect x="126.25" y="190.75" width="6.4" height="5.5" fill="#1f9af0"/>
<rect x="134.65" y="190.95" width="6" height="5.1" fill="#f4a686" stroke="#a0553a" stroke-width="0.4"/>
<text x="142.05" y="187.65" font-size="9.5" fill="#1a1a1a" stroke="#1a1a1a" text-anchor="start">before</text>
<text x="142.05" y="196.15" font-size="9.5" fill="#1a1a1a" stroke="#1a1a1a" text-anchor="start">after</text>
<text x="115.8" y="271.8" font-size="7.5" fill="#1a1a1a" stroke="#1a1a1a" text-anchor="middle">SRTM</text>
<text x="114.4" y="283.2" font-size="9" fill="#1a1a1a" stroke="#1a1a1a" text-anchor="middle">(a)</text>
<polyline points="243.1,52.7 243.6,52.7 244.1,52.7 244.6,52.7 245.1,52.7 245.6,52.7 246.11,52.7 246.61,52.7 247.11,52.69 247.61,52.69 248.11,52.69 248.61,52.69 249.11,52.68 249.61,52.68 250.11,52.67 250.61,52.67 251.11,52.66 251.61,52.65 252.12,52.63 252.62,52.62 253.12,52.6 253.62,52.57 254.12,52.54 254.62,52.51 255.12,52.47 255.62,52.42 256.12,52.37 256.62,52.3 257.12,52.23 257.62,52.14 258.13,52.05 258.63,51.94 259.13,51.81 259.63,51.67 260.13,51.51 260.63,51.32 261.13,51.11 261.63,50.85 262.13,50.55 262.63,50.19 263.13,49.73 263.63,49.17 264.14,48.46 264.64,47.57 265.14,46.46 265.64,45.09 266.14,43.41 266.64,41.4 267.14,39.04 267.64,36.35 268.14,33.36 268.64,30.14 269.14,26.8 269.64,23.46 270.15,20.29 270.65,17.44 271.15,15.09 271.65,13.38 272.15,12.4 272.25,12.3 272.25,12.3 272.5,12.2 272.5,12.2 272.65,12.24 272.75,12.3 272.75,12.3 273.15,12.89 273.65,14.32 274.15,16.43 274.65,19.1 275.15,22.16 275.66,25.45 276.16,28.81 276.66,32.09 277.16,35.18 277.66,38 278.16,40.49 278.66,42.64 279.16,44.45 279.66,45.94 280.16,47.16 280.66,48.13 281.16,48.91 281.67,49.52 282.17,50.02 282.67,50.41 283.17,50.74 283.67,51.01 284.17,51.24 284.67,51.44 285.17,51.61 285.67,51.76 286.17,51.89 286.67,52 287.17,52.11 287.68,52.2 288.18,52.27 288.68,52.34 289.18,52.4 289.68,52.45 290.18,52.49 290.68,52.53 291.18,52.56 291.68,52.59 292.18,52.61 292.68,52.63 293.18,52.64 293.69,52.65 294.19,52.66 294.69,52.67 295.19,52.68 295.69,52.68 296.19,52.69 296.69,52.69 297.19,52.69 297.69,52.69 298.19,52.7 298.69,52.7 299.19,52.7 299.7,52.7 300.2,52.7 300.7,52.7 301.2,52.7 301.7,52.7 302.2,52.7" fill="none" stroke="#9c6ad8" stroke-width="0.9" stroke-linejoin="round"/>
<polyline points="243.1,52.7 243.6,52.7 244.1,52.7 244.6,52.7 245.1,52.7 245.6,52.7 246.11,52.7 246.61,52.7 247.11,52.69 247.61,52.69 248.11,52.69 248.61,52.69 249.11,52.69 249.61,52.68 250.11,52.68 250.61,52.67 251.11,52.66 251.61,52.65 252.12,52.64 252.62,52.62 253.12,52.61 253.62,52.58 254.12,52.56 254.62,52.53 255.12,52.49 255.62,52.45 256.12,52.4 256.62,52.34 257.12,52.28 257.62,52.2 258.13,52.11 258.63,52.01 259.13,51.9 259.63,51.77 260.13,51.62 260.63,51.44 261.13,51.24 261.63,50.99 262.13,50.7 262.63,50.34 263.13,49.89 263.63,49.33 264.14,48.64 264.64,47.77 265.14,46.7 265.64,45.38 266.14,43.8 266.64,41.93 267.14,39.76 267.64,37.32 268.14,34.64 268.64,31.79 269.14,28.86 269.64,25.95 270.15,23.21 270.65,20.77 271.15,18.76 271.65,17.3 272.15,16.47 272.25,16.39 272.25,16.39 272.5,16.3 272.5,16.3 272.65,16.33 272.75,16.39 272.75,16.39 273.15,16.89 273.65,18.1 274.15,19.91 274.65,22.19 275.15,24.83 275.66,27.68 276.16,30.62 276.66,33.52 277.16,36.28 277.66,38.82 278.16,41.1 278.66,43.08 279.16,44.78 279.66,46.2 280.16,47.37 280.66,48.31 281.16,49.07 281.67,49.68 282.17,50.17 282.67,50.56 283.17,50.88 283.67,51.14 284.17,51.36 284.67,51.55 285.17,51.71 285.67,51.85 286.17,51.97 286.67,52.07 287.17,52.17 287.68,52.25 288.18,52.32 288.68,52.38 289.18,52.43 289.68,52.48 290.18,52.51 290.68,52.55 291.18,52.57 291.68,52.6 292.18,52.62 292.68,52.63 293.18,52.65 293.69,52.66 294.19,52.67 294.69,52.67 295.19,52.68 295.69,52.68 296.19,52.69 296.69,52.69 297.19,52.69 297.69,52.69 298.19,52.7 298.69,52.7 299.19,52.7 299.7,52.7 300.2,52.7 300.7,52.7 301.2,52.7 301.7,52.7 302.2,52.7" fill="none" stroke="#fb9058" stroke-width="0.9" stroke-linejoin="round"/>
<rect x="242.6" y="9.4" width="60.1" height="43.3" fill="none" stroke="#8a8a8a" stroke-width="0.7"/>
<path d="M243.6 52.7v-1.6M243.6 9.4v1.6M258.1 52.7v-1.6M258.1 9.4v1.6M272.6 52.7v-1.6M272.6 9.4v1.6M287.1 52.7v-1.6M287.1 9.4v1.6M301.6 52.7v-1.6M301.6 9.4v1.6M242.6 53.1h1.6M302.7 53.1h-1.6M242.6 44.6h1.6M302.7 44.6h-1.6M242.6 36.1h1.6M302.7 36.1h-1.6M242.6 27.6h1.6M302.7 27.6h-1.6M242.6 19.3h1.6M302.7 19.3h-1.6M242.6 10.8h1.6M302.7 10.8h-1.6" stroke="#8a8a8a" stroke-width="0.5" fill="none"/>
<text x="245.2" y="59" font-size="7.4" fill="#1a1a1a" stroke="#1a1a1a" text-anchor="middle">&#8722;2</text>
<text x="259" y="59" font-size="7.4" fill="#1a1a1a" stroke="#1a1a1a" text-anchor="middle">&#8722;1</text>
<text x="272.6" y="59" font-size="7.4" fill="#1a1a1a" stroke="#1a1a1a" text-anchor="middle">0</text>
<text x="286.4" y="59" font-size="7.4" fill="#1a1a1a" stroke="#1a1a1a" text-anchor="middle">1</text>
<text x="301.6" y="59" font-size="7.4" fill="#1a1a1a" stroke="#1a1a1a" text-anchor="middle">2</text>
<text x="242.3" y="55.41" font-size="7" fill="#1a1a1a" stroke="#1a1a1a" text-anchor="end">0</text>
<text x="242.3" y="46.91" font-size="7" fill="#1a1a1a" stroke="#1a1a1a" text-anchor="end">1</text>
<text x="242.3" y="38.41" font-size="7" fill="#1a1a1a" stroke="#1a1a1a" text-anchor="end">2</text>
<text x="242.3" y="29.91" font-size="7" fill="#1a1a1a" stroke="#1a1a1a" text-anchor="end">3</text>
<text x="242.3" y="21.61" font-size="7" fill="#1a1a1a" stroke="#1a1a1a" text-anchor="end">4</text>
<text x="242.3" y="13.11" font-size="7" fill="#1a1a1a" stroke="#1a1a1a" text-anchor="end">5</text>
<text x="272.5" y="64.2" font-size="8.2" fill="#1a1a1a" stroke="#1a1a1a" text-anchor="middle" textLength="50.91" lengthAdjust="spacingAndGlyphs">Differences /m</text>
<text x="235.2" y="31" font-size="7.84" fill="#1a1a1a" stroke="#1a1a1a" text-anchor="middle" transform="rotate(-90 235.2 31)" textLength="29.4" lengthAdjust="spacingAndGlyphs">Frequency</text>
<text x="242.6" y="7.5" font-size="7" fill="#1a1a1a" text-anchor="start">&#215;10<tspan dy="-2.94" font-size="5.6">&#8722;3</tspan></text>
<path d="M243.5 14.2h6.7" stroke="#fb9058" stroke-width="0.9"/>
<path d="M243.5 20.2h6.7" stroke="#9c6ad8" stroke-width="0.9"/>
<text x="252" y="16.21" font-size="6.7" fill="#1a1a1a" stroke="#1a1a1a" text-anchor="start">before</text>
<text x="252" y="22.21" font-size="6.7" fill="#1a1a1a" stroke="#1a1a1a" text-anchor="start">after</text>
<rect x="345.15" y="32.25" width="3.75" height="22.65" fill="#1f9af0"/>
<rect x="341.55" y="27.05" width="3.6" height="27.85" fill="#126dbd" stroke="#0d4f8c" stroke-width="0.3"/>
<rect x="359.3" y="32.25" width="3.75" height="22.65" fill="#1f9af0"/>
<rect x="355.7" y="27.05" width="3.6" height="27.85" fill="#126dbd" stroke="#0d4f8c" stroke-width="0.3"/>
<rect x="373.45" y="43.1" width="3.75" height="11.8" fill="#1f9af0"/>
<rect x="369.85" y="42.05" width="3.6" height="12.85" fill="#126dbd" stroke="#0d4f8c" stroke-width="0.3"/>
<rect x="387.6" y="18.3" width="3.75" height="36.6" fill="#1f9af0"/>
<rect x="384" y="11.95" width="3.6" height="42.95" fill="#126dbd" stroke="#0d4f8c" stroke-width="0.3"/>
<rect x="398" y="22.25" width="3.75" height="32.65" fill="#df5019"/>
<rect x="401.95" y="51.2" width="3.35" height="3.5" fill="#f4a686" stroke="#a0553a" stroke-width="0.4"/>
<rect x="412.15" y="13.75" width="3.75" height="41.15" fill="#df5019"/>
<rect x="416.1" y="44.6" width="3.35" height="10.1" fill="#f4a686" stroke="#a0553a" stroke-width="0.4"/>
<path d="M338.25 54.9H422.6" stroke="#555" stroke-width="0.6" fill="none"/>
<path d="M338.25 8.1H422.6" stroke="#9a9a9a" stroke-width="0.5" fill="none"/>
<path d="M338.25 8.1V54.9" stroke="#3d9be0" stroke-width="0.65" fill="none"/>
<path d="M422.6 8.1V54.9" stroke="#ee7a4c" stroke-width="0.65" fill="none"/>
<path d="M338.25 53.1h1.5M338.25 41h1.5M338.25 27.25h1.5M338.25 15h1.5" stroke="#3d9be0" stroke-width="0.5" fill="none"/>
<path d="M422.6 54.4h-1.5M422.6 42.5h-1.5M422.6 28.75h-1.5M422.6 15h-1.5" stroke="#ee7a4c" stroke-width="0.5" fill="none"/>
<path d="M345.15 54.9v-1.3M345.15 8.1v1.3M359.3 54.9v-1.3M359.3 8.1v1.3M373.45 54.9v-1.3M373.45 8.1v1.3M387.6 54.9v-1.3M387.6 8.1v1.3M401.75 54.9v-1.3M401.75 8.1v1.3M415.9 54.9v-1.3M415.9 8.1v1.3" stroke="#777" stroke-width="0.4" fill="none"/>
<text x="337.45" y="55.44" font-size="7.1" fill="#2f8fe0" stroke="#2f8fe0" text-anchor="end">0</text>
<text x="337.45" y="43.34" font-size="7.1" fill="#2f8fe0" stroke="#2f8fe0" text-anchor="end">0.2</text>
<text x="337.45" y="29.59" font-size="7.1" fill="#2f8fe0" stroke="#2f8fe0" text-anchor="end">0.4</text>
<text x="337.45" y="17.34" font-size="7.1" fill="#2f8fe0" stroke="#2f8fe0" text-anchor="end">0.6</text>
<text x="424.2" y="56.64" font-size="6.8" fill="#e4703f" stroke="#e4703f" text-anchor="start">0</text>
<text x="424.2" y="44.74" font-size="6.8" fill="#e4703f" stroke="#e4703f" text-anchor="start">0.01</text>
<text x="424.2" y="30.99" font-size="6.8" fill="#e4703f" stroke="#e4703f" text-anchor="start">0.02</text>
<text x="424.2" y="17.24" font-size="6.8" fill="#e4703f" stroke="#e4703f" text-anchor="start">0.03</text>
<text x="344.65" y="60.7" font-size="6.1" fill="#1a1a1a" stroke="#1a1a1a" text-anchor="middle">RMSE</text>
<text x="359.35" y="60.7" font-size="6.1" fill="#1a1a1a" stroke="#1a1a1a" text-anchor="middle">STD</text>
<text x="374.05" y="60.7" font-size="6.1" fill="#1a1a1a" stroke="#1a1a1a" text-anchor="middle">MAD</text>
<text x="388.75" y="60.7" font-size="6.1" fill="#1a1a1a" stroke="#1a1a1a" text-anchor="middle">LE90</text>
<text x="403.45" y="60.7" font-size="6.1" fill="#1a1a1a" stroke="#1a1a1a" text-anchor="middle">ME</text>
<text x="418.15" y="60.7" font-size="6.1" fill="#1a1a1a" stroke="#1a1a1a" text-anchor="middle">MED</text>
<text x="327.8" y="33.75" font-size="9.2" fill="#1a1a1a" stroke="#1a1a1a" text-anchor="middle" transform="rotate(-90 327.8 33.75)" textLength="25.91" lengthAdjust="spacingAndGlyphs">Value /m</text>
<rect x="341.5" y="10.6" width="6.4" height="5.5" fill="#126dbd"/>
<rect x="349.7" y="10.6" width="6.4" height="5.5" fill="#df5019"/>
<rect x="341.5" y="19.4" width="6.4" height="5.5" fill="#1f9af0"/>
<rect x="349.9" y="19.6" width="6" height="5.1" fill="#f4a686" stroke="#a0553a" stroke-width="0.4"/>
<text x="357.3" y="16" font-size="9.5" fill="#1a1a1a" stroke="#1a1a1a" text-anchor="start">before</text>
<text x="357.3" y="24.8" font-size="9.5" fill="#1a1a1a" stroke="#1a1a1a" text-anchor="start">after</text>
<text x="329" y="72.1" font-size="7.6" fill="#1a1a1a" stroke="#1a1a1a" text-anchor="middle">30-m TanDEM-X DEM</text>
<polyline points="241.8,139.4 242.3,139.4 242.8,139.4 243.3,139.4 243.81,139.4 244.31,139.4 244.81,139.4 245.31,139.4 245.81,139.4 246.31,139.4 246.81,139.4 247.31,139.4 247.82,139.4 248.32,139.4 248.82,139.4 249.32,139.4 249.82,139.4 250.32,139.4 250.82,139.39 251.32,139.39 251.83,139.39 252.33,139.39 252.83,139.38 253.33,139.38 253.83,139.38 254.33,139.37 254.83,139.36 255.33,139.35 255.84,139.34 256.34,139.33 256.84,139.31 257.34,139.29 257.84,139.27 258.34,139.24 258.84,139.21 259.34,139.17 259.85,139.12 260.35,139.07 260.85,139 261.35,138.93 261.85,138.84 262.35,138.74 262.85,138.62 263.35,138.49 263.86,138.34 264.36,138.16 264.86,137.96 265.36,137.73 265.86,137.48 266.36,137.19 266.86,136.87 267.36,136.51 267.87,136.11 268.37,135.66 268.87,135.17 269.37,134.64 269.87,134.05 270.37,133.41 270.87,132.71 271.38,131.96 271.88,131.15 272.38,130.29 272.88,129.36 273.38,128.38 273.88,127.35 274.38,126.26 274.88,125.12 275.39,123.93 275.89,122.7 276.39,121.43 276.89,120.13 277.39,118.8 277.89,117.45 278.39,116.1 278.89,114.74 279.4,113.39 279.9,112.05 280.4,110.74 280.9,109.47 281.4,108.25 281.9,107.08 282.4,105.99 282.9,104.96 283.41,104.03 283.91,103.19 284.41,102.45 284.91,101.83 285.41,101.31 285.91,100.92 286.41,100.66 286.91,100.52 286.95,100.52 287.2,100.5 287.42,100.51 287.45,100.52 287.92,100.63 288.42,100.88 288.92,101.25 289.42,101.75 289.92,102.36 290.42,103.08 290.92,103.91 291.43,104.83 291.93,105.84 292.43,106.93 292.93,108.08 293.43,109.3 293.93,110.57 294.43,111.87 294.94,113.2 295.44,114.55 295.94,115.91 296.44,117.27 296.94,118.61 297.44,119.94 297.94,121.25 298.44,122.52 298.95,123.76 299.45,124.96 299.95,126.1 300.45,127.2 300.95,128.24 301.45,129.23 301.95,130.16 302.45,131.04 302.96,131.85 303.46,132.61 303.96,133.31 304.46,133.96 304.96,134.56 305.46,135.1 305.96,135.6 306.46,136.05 306.97,136.45 307.47,136.82 307.97,137.15 308.47,137.44 308.97,137.7 309.47,137.93 309.97,138.14 310.47,138.31 310.98,138.47 311.48,138.61 311.98,138.73 312.48,138.83 312.98,138.92 313.48,138.99 313.98,139.06 314.48,139.12 314.99,139.16 315.49,139.2 315.99,139.24 316.49,139.27 316.99,139.29 317.49,139.31 317.99,139.33 318.49,139.34 319,139.35 319.5,139.36 320,139.37 320.5,139.37" fill="none" stroke="#9c6ad8" stroke-width="0.9" stroke-linejoin="round"/>
<polyline points="241.8,139.39 242.3,139.39 242.8,139.38 243.3,139.38 243.81,139.38 244.31,139.37 244.81,139.36 245.31,139.35 245.81,139.34 246.31,139.33 246.81,139.31 247.31,139.3 247.82,139.27 248.32,139.25 248.82,139.21 249.32,139.18 249.82,139.13 250.32,139.08 250.82,139.02 251.32,138.94 251.83,138.86 252.33,138.76 252.83,138.65 253.33,138.52 253.83,138.37 254.33,138.2 254.83,138.01 255.33,137.79 255.84,137.54 256.34,137.27 256.84,136.96 257.34,136.61 257.84,136.23 258.34,135.8 258.84,135.33 259.34,134.81 259.85,134.25 260.35,133.64 260.85,132.97 261.35,132.25 261.85,131.48 262.35,130.65 262.85,129.77 263.35,128.84 263.86,127.85 264.36,126.81 264.86,125.72 265.36,124.59 265.86,123.42 266.36,122.22 266.86,120.98 267.36,119.72 267.87,118.45 268.37,117.16 268.87,115.88 269.37,114.6 269.87,113.34 270.37,112.11 270.87,110.91 271.38,109.76 271.88,108.67 272.38,107.64 272.88,106.69 273.38,105.81 273.88,105.03 274.38,104.35 274.88,103.77 275.39,103.31 275.89,102.96 276.39,102.72 276.85,102.62 276.89,102.61 277.1,102.6 277.35,102.62 277.39,102.62 277.89,102.75 278.39,103 278.89,103.37 279.4,103.86 279.9,104.45 280.4,105.15 280.9,105.95 281.4,106.83 281.9,107.8 282.4,108.84 282.9,109.94 283.41,111.1 283.91,112.3 284.41,113.54 284.91,114.8 285.41,116.08 285.91,117.37 286.41,118.65 286.91,119.92 287.42,121.18 287.92,122.41 288.42,123.61 288.92,124.78 289.42,125.9 289.92,126.98 290.42,128.01 290.92,128.99 291.43,129.91 291.93,130.79 292.43,131.61 292.93,132.37 293.43,133.08 293.93,133.74 294.43,134.34 294.94,134.9 295.44,135.41 295.94,135.87 296.44,136.29 296.94,136.67 297.44,137.01 297.94,137.31 298.44,137.58 298.95,137.83 299.45,138.04 299.95,138.23 300.45,138.4 300.95,138.54 301.45,138.67 301.95,138.78 302.45,138.87 302.96,138.96 303.46,139.03 303.96,139.09 304.46,139.14 304.96,139.18 305.46,139.22 305.96,139.25 306.46,139.28 306.97,139.3 307.47,139.32 307.97,139.33 308.47,139.34 308.97,139.36 309.47,139.36 309.97,139.37 310.47,139.38 310.98,139.38 311.48,139.39 311.98,139.39 312.48,139.39 312.98,139.39 313.48,139.39 313.98,139.4 314.48,139.4 314.99,139.4 315.49,139.4 315.99,139.4 316.49,139.4 316.99,139.4 317.49,139.4 317.99,139.4 318.49,139.4 319,139.4 319.5,139.4 320,139.4 320.5,139.4" fill="none" stroke="#fb9058" stroke-width="0.9" stroke-linejoin="round"/>
<rect x="241.3" y="97" width="79.7" height="42.4" fill="none" stroke="#8a8a8a" stroke-width="0.7"/>
<path d="M247 139.4v-1.6M247 97v1.6M258 139.4v-1.6M258 97v1.6M271.4 139.4v-1.6M271.4 97v1.6M279.6 139.4v-1.6M279.6 97v1.6M287.7 139.4v-1.6M287.7 97v1.6M304.7 139.4v-1.6M304.7 97v1.6M241.3 139.4h1.6M321 139.4h-1.6M241.3 130.6h1.6M321 130.6h-1.6M241.3 121.8h1.6M321 121.8h-1.6M241.3 113h1.6M321 113h-1.6M241.3 104.2h1.6M321 104.2h-1.6" stroke="#8a8a8a" stroke-width="0.5" fill="none"/>
<text x="245.3" y="145.7" font-size="6.6" fill="#1a1a1a" stroke="#1a1a1a" text-anchor="middle">&#8722;25</text>
<text x="258.3" y="145.7" font-size="6.6" fill="#1a1a1a" stroke="#1a1a1a" text-anchor="middle">&#8722;15</text>
<text x="271.2" y="145.7" font-size="6.6" fill="#1a1a1a" stroke="#1a1a1a" text-anchor="middle">&#8722;5</text>
<text x="279.6" y="145.7" font-size="6.6" fill="#1a1a1a" stroke="#1a1a1a" text-anchor="middle">0</text>
<text x="287.7" y="145.7" font-size="6.6" fill="#1a1a1a" stroke="#1a1a1a" text-anchor="middle">5</text>
<text x="304.7" y="145.7" font-size="6.6" fill="#1a1a1a" stroke="#1a1a1a" text-anchor="middle">15</text>
<text x="241" y="141.64" font-size="6.8" fill="#1a1a1a" stroke="#1a1a1a" text-anchor="end">0</text>
<text x="241" y="132.84" font-size="6.8" fill="#1a1a1a" stroke="#1a1a1a" text-anchor="end">1</text>
<text x="241" y="124.04" font-size="6.8" fill="#1a1a1a" stroke="#1a1a1a" text-anchor="end">2</text>
<text x="241" y="115.24" font-size="6.8" fill="#1a1a1a" stroke="#1a1a1a" text-anchor="end">3</text>
<text x="241" y="106.44" font-size="6.8" fill="#1a1a1a" stroke="#1a1a1a" text-anchor="end">4</text>
<text x="280.8" y="153.6" font-size="8.2" fill="#1a1a1a" stroke="#1a1a1a" text-anchor="middle" textLength="50.91" lengthAdjust="spacingAndGlyphs">Differences /m</text>
<text x="234.1" y="119.3" font-size="7.39" fill="#1a1a1a" stroke="#1a1a1a" text-anchor="middle" transform="rotate(-90 234.1 119.3)" textLength="27.72" lengthAdjust="spacingAndGlyphs">Frequency</text>
<text x="241.3" y="96.2" font-size="7" fill="#1a1a1a" text-anchor="start">&#215;10<tspan dy="-2.94" font-size="5.6">&#8722;3</tspan></text>
<path d="M243.8 101.4h7.9" stroke="#fb9058" stroke-width="0.9"/>
<path d="M243.8 107.6h7.9" stroke="#9c6ad8" stroke-width="0.9"/>
<text x="253.5" y="103.41" font-size="6.7" fill="#1a1a1a" stroke="#1a1a1a" text-anchor="start">before</text>
<text x="253.5" y="109.61" font-size="6.7" fill="#1a1a1a" stroke="#1a1a1a" text-anchor="start">after</text>
<rect x="345.15" y="132.5" width="3.75" height="30.7" fill="#1f9af0"/>
<rect x="341.55" y="116.15" width="3.6" height="47.05" fill="#126dbd" stroke="#0d4f8c" stroke-width="0.3"/>
<rect x="359.3" y="132.5" width="3.75" height="30.7" fill="#1f9af0"/>
<rect x="355.7" y="131.4" width="3.6" height="31.8" fill="#126dbd" stroke="#0d4f8c" stroke-width="0.3"/>
<rect x="373.45" y="144.7" width="3.75" height="18.5" fill="#1f9af0"/>
<rect x="369.85" y="143.55" width="3.6" height="19.65" fill="#126dbd" stroke="#0d4f8c" stroke-width="0.3"/>
<rect x="387.6" y="111.8" width="3.75" height="51.4" fill="#1f9af0"/>
<rect x="384" y="88.45" width="3.6" height="74.75" fill="#126dbd" stroke="#0d4f8c" stroke-width="0.3"/>
<rect x="398" y="92.5" width="3.75" height="61.5" fill="#df5019"/>
<path d="M401.75 92.5h3.75" stroke="#888" stroke-width="0.6"/>
<rect x="412.15" y="92.5" width="3.75" height="60.9" fill="#df5019"/>
<path d="M415.9 92.5h3.75" stroke="#888" stroke-width="0.6"/>
<path d="M397 92.5H423" stroke="#ee7a4c" stroke-width="0.5" stroke-dasharray="0.8 0.8" opacity="0.8"/>
<path d="M338 163.2H423" stroke="#555" stroke-width="0.6" fill="none"/>
<path d="M338 82.4H423" stroke="#9a9a9a" stroke-width="0.5" fill="none"/>
<path d="M338 82.4V163.2" stroke="#3d9be0" stroke-width="0.65" fill="none"/>
<path d="M423 82.4V163.2" stroke="#ee7a4c" stroke-width="0.65" fill="none"/>
<path d="M338 161.5h1.5M338 140h1.5M338 117.5h1.5M338 93.75h1.5" stroke="#3d9be0" stroke-width="0.5" fill="none"/>
<path d="M423 92.25h-1.5M423 113.1h-1.5M423 133.1h-1.5M423 153.9h-1.5" stroke="#ee7a4c" stroke-width="0.5" fill="none"/>
<path d="M345.15 163.2v-1.3M345.15 82.4v1.3M359.3 163.2v-1.3M359.3 82.4v1.3M373.45 163.2v-1.3M373.45 82.4v1.3M387.6 163.2v-1.3M387.6 82.4v1.3M401.75 163.2v-1.3M401.75 82.4v1.3M415.9 163.2v-1.3M415.9 82.4v1.3" stroke="#777" stroke-width="0.4" fill="none"/>
<text x="336.8" y="163.81" font-size="7" fill="#2f8fe0" stroke="#2f8fe0" text-anchor="end">0</text>
<text x="336.8" y="142.31" font-size="7" fill="#2f8fe0" stroke="#2f8fe0" text-anchor="end">4</text>
<text x="336.8" y="119.81" font-size="7" fill="#2f8fe0" stroke="#2f8fe0" text-anchor="end">8</text>
<text x="336.8" y="96.06" font-size="7" fill="#2f8fe0" stroke="#2f8fe0" text-anchor="end">12</text>
<text x="424.6" y="94.69" font-size="7.4" fill="#e4703f" stroke="#e4703f" text-anchor="start">0</text>
<text x="424.6" y="115.54" font-size="7.4" fill="#e4703f" stroke="#e4703f" text-anchor="start">&#8722;2</text>
<text x="424.6" y="135.54" font-size="7.4" fill="#e4703f" stroke="#e4703f" text-anchor="start">&#8722;4</text>
<text x="424.6" y="156.34" font-size="7.4" fill="#e4703f" stroke="#e4703f" text-anchor="start">&#8722;6</text>
<text x="344.65" y="169.5" font-size="6.1" fill="#1a1a1a" stroke="#1a1a1a" text-anchor="middle">RMSE</text>
<text x="359.35" y="169.5" font-size="6.1" fill="#1a1a1a" stroke="#1a1a1a" text-anchor="middle">STD</text>
<text x="374.05" y="169.5" font-size="6.1" fill="#1a1a1a" stroke="#1a1a1a" text-anchor="middle">MAD</text>
<text x="388.75" y="169.5" font-size="6.1" fill="#1a1a1a" stroke="#1a1a1a" text-anchor="middle">LE90</text>
<text x="403.45" y="169.5" font-size="6.1" fill="#1a1a1a" stroke="#1a1a1a" text-anchor="middle">ME</text>
<text x="418.15" y="169.5" font-size="6.1" fill="#1a1a1a" stroke="#1a1a1a" text-anchor="middle">MED</text>
<text x="331.5" y="120.3" font-size="9.2" fill="#1a1a1a" stroke="#1a1a1a" text-anchor="middle" transform="rotate(-90 331.5 120.3)" textLength="25.56" lengthAdjust="spacingAndGlyphs">Value /m</text>
<rect x="341.1" y="86.9" width="6.4" height="5.5" fill="#126dbd"/>
<rect x="349.3" y="86.9" width="6.4" height="5.5" fill="#df5019"/>
<rect x="341.1" y="96.2" width="6.4" height="5.5" fill="#1f9af0"/>
<rect x="349.5" y="96.4" width="6" height="5.1" fill="#f4a686" stroke="#a0553a" stroke-width="0.4"/>
<text x="356.9" y="92.3" font-size="9.5" fill="#1a1a1a" stroke="#1a1a1a" text-anchor="start">before</text>
<text x="356.9" y="101.6" font-size="9.5" fill="#1a1a1a" stroke="#1a1a1a" text-anchor="start">after</text>
<text x="335.7" y="176.2" font-size="7.7" fill="#1a1a1a" stroke="#1a1a1a" text-anchor="middle">ASTER GDEM</text>
<polyline points="242.8,244.3 243.3,244.3 243.81,244.3 244.31,244.3 244.81,244.3 245.31,244.3 245.82,244.3 246.32,244.3 246.82,244.3 247.33,244.3 247.83,244.3 248.33,244.3 248.83,244.3 249.34,244.3 249.84,244.3 250.34,244.3 250.85,244.3 251.35,244.3 251.85,244.3 252.36,244.3 252.86,244.3 253.36,244.3 253.86,244.3 254.37,244.3 254.87,244.3 255.37,244.3 255.88,244.3 256.38,244.3 256.88,244.3 257.38,244.3 257.89,244.3 258.39,244.3 258.89,244.3 259.4,244.3 259.9,244.29 260.4,244.29 260.9,244.29 261.41,244.28 261.91,244.27 262.41,244.26 262.92,244.25 263.42,244.23 263.92,244.2 264.42,244.17 264.93,244.13 265.43,244.07 265.93,244 266.44,243.91 266.94,243.8 267.44,243.66 267.94,243.48 268.45,243.26 268.95,243 269.45,242.68 269.96,242.29 270.46,241.84 270.96,241.3 271.47,240.67 271.97,239.95 272.47,239.12 272.97,238.18 273.48,237.12 273.98,235.94 274.48,234.64 274.99,233.22 275.49,231.69 275.99,230.05 276.49,228.32 277,226.52 277.5,224.66 278,222.77 278.51,220.87 279.01,219 279.51,217.19 280.01,215.46 280.52,213.85 281.02,212.39 281.52,211.11 282.03,210.04 282.53,209.19 283.03,208.6 283.53,208.27 283.65,208.23 283.9,208.2 284.04,208.21 284.15,208.23 284.54,208.42 285.04,208.89 285.55,209.63 286.05,210.6 286.55,211.78 287.06,213.16 287.56,214.71 288.06,216.39 288.56,218.17 289.07,220.02 289.57,221.91 290.07,223.81 290.58,225.68 291.08,227.52 291.58,229.28 292.08,230.96 292.59,232.54 293.09,234.01 293.59,235.37 294.1,236.6 294.6,237.71 295.1,238.71 295.6,239.59 296.11,240.36 296.61,241.03 297.11,241.61 297.62,242.1 298.12,242.51 298.62,242.86 299.12,243.15 299.63,243.39 300.13,243.58 300.63,243.74 301.14,243.86 301.64,243.96 302.14,244.04 302.64,244.11 303.15,244.15 303.65,244.19 304.15,244.22 304.66,244.24 305.16,244.26 305.66,244.27 306.17,244.28 306.67,244.28 307.17,244.29 307.67,244.29 308.18,244.29 308.68,244.3 309.18,244.3 309.69,244.3 310.19,244.3 310.69,244.3 311.19,244.3 311.7,244.3 312.2,244.3" fill="none" stroke="#9c6ad8" stroke-width="0.9" stroke-linejoin="round"/>
<polyline points="242.8,244.3 243.3,244.3 243.81,244.3 244.31,244.3 244.81,244.3 245.31,244.3 245.82,244.3 246.32,244.3 246.82,244.3 247.33,244.3 247.83,244.29 248.33,244.29 248.83,244.29 249.34,244.28 249.84,244.27 250.34,244.26 250.85,244.25 251.35,244.23 251.85,244.2 252.36,244.17 252.86,244.13 253.36,244.07 253.86,244 254.37,243.91 254.87,243.79 255.37,243.65 255.88,243.47 256.38,243.25 256.88,242.98 257.38,242.66 257.89,242.27 258.39,241.81 258.89,241.27 259.4,240.63 259.9,239.9 260.4,239.07 260.9,238.12 261.41,237.05 261.91,235.86 262.41,234.56 262.92,233.13 263.42,231.59 263.92,229.95 264.42,228.22 264.93,226.41 265.43,224.55 265.93,222.66 266.44,220.76 266.94,218.89 267.44,217.08 267.94,215.35 268.45,213.75 268.95,212.3 269.45,211.04 269.96,209.98 270.46,209.15 270.96,208.57 271.47,208.26 271.55,208.23 271.8,208.2 271.97,208.22 272.05,208.23 272.47,208.44 272.97,208.93 273.48,209.68 273.98,210.66 274.48,211.86 274.99,213.25 275.49,214.81 275.99,216.5 276.49,218.28 277,220.14 277.5,222.03 278,223.92 278.51,225.8 279.01,227.62 279.51,229.38 280.01,231.06 280.52,232.63 281.02,234.1 281.52,235.44 282.03,236.67 282.53,237.78 283.03,238.76 283.53,239.64 284.04,240.4 284.54,241.07 285.04,241.64 285.55,242.12 286.05,242.53 286.55,242.88 287.06,243.16 287.56,243.4 288.06,243.59 288.56,243.75 289.07,243.87 289.57,243.97 290.07,244.05 290.58,244.11 291.08,244.16 291.58,244.19 292.08,244.22 292.59,244.24 293.09,244.26 293.59,244.27 294.1,244.28 294.6,244.28 295.1,244.29 295.6,244.29 296.11,244.29 296.61,244.3 297.11,244.3 297.62,244.3 298.12,244.3 298.62,244.3 299.12,244.3 299.63,244.3 300.13,244.3 300.63,244.3 301.14,244.3 301.64,244.3 302.14,244.3 302.64,244.3 303.15,244.3 303.65,244.3 304.15,244.3 304.66,244.3 305.16,244.3 305.66,244.3 306.17,244.3 306.67,244.3 307.17,244.3 307.67,244.3 308.18,244.3 308.68,244.3 309.18,244.3 309.69,244.3 310.19,244.3 310.69,244.3 311.19,244.3 311.7,244.3 312.2,244.3" fill="none" stroke="#fb9058" stroke-width="0.9" stroke-linejoin="round"/>
<rect x="242.3" y="201.5" width="70.4" height="42.8" fill="none" stroke="#8a8a8a" stroke-width="0.7"/>
<path d="M250.7 244.3v-1.6M250.7 201.5v1.6M259 244.3v-1.6M259 201.5v1.6M267.3 244.3v-1.6M267.3 201.5v1.6M275.6 244.3v-1.6M275.6 201.5v1.6M283.9 244.3v-1.6M283.9 201.5v1.6M292.2 244.3v-1.6M292.2 201.5v1.6M300.5 244.3v-1.6M300.5 201.5v1.6M308.8 244.3v-1.6M308.8 201.5v1.6M242.3 243.6h1.6M312.7 243.6h-1.6M242.3 238h1.6M312.7 238h-1.6M242.3 231.8h1.6M312.7 231.8h-1.6M242.3 225.6h1.6M312.7 225.6h-1.6M242.3 219.4h1.6M312.7 219.4h-1.6M242.3 213.2h1.6M312.7 213.2h-1.6M242.3 207.2h1.6M312.7 207.2h-1.6" stroke="#8a8a8a" stroke-width="0.5" fill="none"/>
<text x="248.2" y="250.5" font-size="6.6" fill="#1a1a1a" stroke="#1a1a1a" text-anchor="middle">&#8722;8</text>
<text x="256" y="250.5" font-size="6.6" fill="#1a1a1a" stroke="#1a1a1a" text-anchor="middle">&#8722;6</text>
<text x="263.8" y="250.5" font-size="6.6" fill="#1a1a1a" stroke="#1a1a1a" text-anchor="middle">&#8722;4</text>
<text x="272" y="250.5" font-size="6.6" fill="#1a1a1a" stroke="#1a1a1a" text-anchor="middle">&#8722;2</text>
<text x="283.9" y="250.5" font-size="6.6" fill="#1a1a1a" stroke="#1a1a1a" text-anchor="middle">0</text>
<text x="292.7" y="250.5" font-size="6.6" fill="#1a1a1a" stroke="#1a1a1a" text-anchor="middle">2</text>
<text x="300.2" y="250.5" font-size="6.6" fill="#1a1a1a" stroke="#1a1a1a" text-anchor="middle">4</text>
<text x="308.2" y="250.5" font-size="6.6" fill="#1a1a1a" stroke="#1a1a1a" text-anchor="middle">6</text>
<text x="242" y="245.91" font-size="7" fill="#1a1a1a" stroke="#1a1a1a" text-anchor="end">0</text>
<text x="242" y="239.52" font-size="4.6" fill="#1a1a1a" stroke="#1a1a1a" text-anchor="end">1</text>
<text x="242" y="233.32" font-size="4.6" fill="#1a1a1a" stroke="#1a1a1a" text-anchor="end">2</text>
<text x="242" y="227.12" font-size="4.6" fill="#1a1a1a" stroke="#1a1a1a" text-anchor="end">3</text>
<text x="242" y="220.92" font-size="4.6" fill="#1a1a1a" stroke="#1a1a1a" text-anchor="end">4</text>
<text x="242" y="214.72" font-size="4.6" fill="#1a1a1a" stroke="#1a1a1a" text-anchor="end">5</text>
<text x="242" y="209.51" font-size="7" fill="#1a1a1a" stroke="#1a1a1a" text-anchor="end">6</text>
<text x="280.8" y="257.6" font-size="8.2" fill="#1a1a1a" stroke="#1a1a1a" text-anchor="middle" textLength="50.91" lengthAdjust="spacingAndGlyphs">Differences /m</text>
<text x="235.2" y="221.7" font-size="7.17" fill="#1a1a1a" stroke="#1a1a1a" text-anchor="middle" transform="rotate(-90 235.2 221.7)" textLength="26.88" lengthAdjust="spacingAndGlyphs">Frequency</text>
<text x="242" y="200" font-size="7.5" fill="#1a1a1a" text-anchor="start">&#215;10<tspan dy="-3.15" font-size="6">&#8722;3</tspan></text>
<path d="M244.2 206.9h6" stroke="#fb9058" stroke-width="0.9"/>
<path d="M244.2 212.8h6" stroke="#9c6ad8" stroke-width="0.9"/>
<text x="252" y="208.91" font-size="6.7" fill="#1a1a1a" stroke="#1a1a1a" text-anchor="start">before</text>
<text x="252" y="214.81" font-size="6.7" fill="#1a1a1a" stroke="#1a1a1a" text-anchor="start">after</text>
<rect x="344.95" y="233.5" width="3.75" height="18.1" fill="#1f9af0"/>
<rect x="341.35" y="216.75" width="3.6" height="34.85" fill="#126dbd" stroke="#0d4f8c" stroke-width="0.3"/>
<rect x="359.1" y="233.5" width="3.75" height="18.1" fill="#1f9af0"/>
<rect x="355.5" y="233.65" width="3.6" height="17.95" fill="#126dbd" stroke="#0d4f8c" stroke-width="0.3"/>
<rect x="373.25" y="240" width="3.75" height="11.6" fill="#1f9af0"/>
<rect x="369.65" y="240.15" width="3.6" height="11.45" fill="#126dbd" stroke="#0d4f8c" stroke-width="0.3"/>
<rect x="387.4" y="222.1" width="3.75" height="29.5" fill="#1f9af0"/>
<rect x="383.8" y="198.25" width="3.6" height="53.35" fill="#126dbd" stroke="#0d4f8c" stroke-width="0.3"/>
<rect x="397.8" y="205.6" width="3.75" height="43.3" fill="#df5019"/>
<path d="M401.55 205.6h3.75" stroke="#888" stroke-width="0.6"/>
<rect x="411.95" y="205.6" width="3.75" height="43.3" fill="#df5019"/>
<path d="M415.7 205.6h3.75" stroke="#888" stroke-width="0.6"/>
<path d="M396.8 205.6H423" stroke="#ee7a4c" stroke-width="0.5" stroke-dasharray="0.8 0.8" opacity="0.8"/>
<path d="M338 251.6H423" stroke="#555" stroke-width="0.6" fill="none"/>
<path d="M338 198.1H423" stroke="#9a9a9a" stroke-width="0.5" fill="none"/>
<path d="M338 198.1V251.6" stroke="#3d9be0" stroke-width="0.65" fill="none"/>
<path d="M423 198.1V251.6" stroke="#ee7a4c" stroke-width="0.65" fill="none"/>
<path d="M338 249.7h1.5M338 240.7h1.5M338 231.4h1.5M338 221.3h1.5M338 211.5h1.5M338 203h1.5" stroke="#3d9be0" stroke-width="0.5" fill="none"/>
<path d="M423 206.3h-1.5M423 220.6h-1.5M423 236.4h-1.5M423 251h-1.5" stroke="#ee7a4c" stroke-width="0.5" fill="none"/>
<path d="M344.95 251.6v-1.3M344.95 198.1v1.3M359.1 251.6v-1.3M359.1 198.1v1.3M373.25 251.6v-1.3M373.25 198.1v1.3M387.4 251.6v-1.3M387.4 198.1v1.3M401.55 251.6v-1.3M401.55 198.1v1.3M415.7 251.6v-1.3M415.7 198.1v1.3" stroke="#777" stroke-width="0.4" fill="none"/>
<text x="337.6" y="251.68" font-size="6" fill="#4aa0e2" stroke="#4aa0e2" text-anchor="end">0</text>
<text x="337.6" y="242.35" font-size="5" fill="#4aa0e2" stroke="#4aa0e2" text-anchor="end">1</text>
<text x="337.6" y="233.05" font-size="5" fill="#4aa0e2" stroke="#4aa0e2" text-anchor="end">2</text>
<text x="337.6" y="222.95" font-size="5" fill="#4aa0e2" stroke="#4aa0e2" text-anchor="end">3</text>
<text x="337.6" y="213.65" font-size="6.5" fill="#4aa0e2" stroke="#4aa0e2" text-anchor="end">4</text>
<text x="337.6" y="205.31" font-size="7" fill="#4aa0e2" stroke="#4aa0e2" text-anchor="end">5</text>
<text x="424.6" y="208.74" font-size="7.4" fill="#e4703f" stroke="#e4703f" text-anchor="start">0</text>
<text x="424.6" y="223.04" font-size="7.4" fill="#e4703f" stroke="#e4703f" text-anchor="start">&#8722;1</text>
<text x="424.6" y="238.84" font-size="7.4" fill="#e4703f" stroke="#e4703f" text-anchor="start">&#8722;2</text>
<text x="424.6" y="253.44" font-size="7.4" fill="#e4703f" stroke="#e4703f" text-anchor="start">&#8722;3</text>
<text x="344.45" y="257.5" font-size="6.1" fill="#1a1a1a" stroke="#1a1a1a" text-anchor="middle">RMSE</text>
<text x="359.15" y="257.5" font-size="6.1" fill="#1a1a1a" stroke="#1a1a1a" text-anchor="middle">STD</text>
<text x="373.85" y="257.5" font-size="6.1" fill="#1a1a1a" stroke="#1a1a1a" text-anchor="middle">MAD</text>
<text x="388.55" y="257.5" font-size="6.1" fill="#1a1a1a" stroke="#1a1a1a" text-anchor="middle">LE90</text>
<text x="403.25" y="257.5" font-size="6.1" fill="#1a1a1a" stroke="#1a1a1a" text-anchor="middle">ME</text>
<text x="417.95" y="257.5" font-size="6.1" fill="#1a1a1a" stroke="#1a1a1a" text-anchor="middle">MED</text>
<text x="331.9" y="226.25" font-size="9.2" fill="#1a1a1a" stroke="#1a1a1a" text-anchor="middle" transform="rotate(-90 331.9 226.25)" textLength="25.91" lengthAdjust="spacingAndGlyphs">Value /m</text>
<rect x="342.75" y="201" width="6.4" height="5.5" fill="#126dbd"/>
<rect x="350.95" y="201" width="6.4" height="5.5" fill="#df5019"/>
<rect x="342.75" y="210" width="6.4" height="5.5" fill="#1f9af0"/>
<rect x="351.15" y="210.2" width="6" height="5.1" fill="#f4a686" stroke="#a0553a" stroke-width="0.4"/>
<text x="358.55" y="206.4" font-size="9.5" fill="#1a1a1a" stroke="#1a1a1a" text-anchor="start">before</text>
<text x="358.55" y="215.4" font-size="9.5" fill="#1a1a1a" stroke="#1a1a1a" text-anchor="start">after</text>
<text x="330" y="266" font-size="7.5" fill="#1a1a1a" stroke="#1a1a1a" text-anchor="middle">SRTM</text>
<text x="331.8" y="277.9" font-size="9" fill="#1a1a1a" stroke="#1a1a1a" text-anchor="middle">(b)</text>
<polyline points="17.1,335.2 17.6,335.2 18.1,335.2 18.6,335.2 19.1,335.2 19.6,335.2 20.1,335.2 20.61,335.2 21.11,335.2 21.61,335.19 22.11,335.19 22.61,335.19 23.11,335.19 23.61,335.19 24.11,335.19 24.61,335.19 25.11,335.18 25.61,335.18 26.11,335.18 26.61,335.18 27.11,335.17 27.62,335.17 28.12,335.16 28.62,335.16 29.12,335.15 29.62,335.14 30.12,335.13 30.62,335.12 31.12,335.11 31.62,335.1 32.12,335.08 32.62,335.06 33.12,335.04 33.62,335.01 34.12,334.98 34.63,334.95 35.13,334.91 35.63,334.86 36.13,334.81 36.63,334.75 37.13,334.68 37.63,334.6 38.13,334.5 38.63,334.39 39.13,334.26 39.63,334.11 40.13,333.94 40.63,333.74 41.13,333.51 41.64,333.24 42.14,332.92 42.64,332.56 43.14,332.15 43.64,331.66 44.14,331.1 44.64,330.45 45.14,329.69 45.64,328.82 46.14,327.81 46.64,326.64 47.14,325.28 47.64,323.7 48.14,321.88 48.65,319.77 49.15,317.32 49.65,314.48 50.15,311.19 50.65,307.38 51.15,302.97 51.65,297.85 51.75,296.73 52,293.8 52.15,295.59 52.25,296.73 52.65,301.01 53.15,305.7 53.65,309.74 54.15,313.22 54.65,316.23 55.15,318.83 55.66,321.07 56.16,323.01 56.66,324.68 57.16,326.12 57.66,327.36 58.16,328.43 58.66,329.36 59.16,330.16 59.66,330.85 60.16,331.45 60.66,331.96 61.16,332.4 61.66,332.79 62.16,333.12 62.67,333.4 63.17,333.65 63.67,333.86 64.17,334.04 64.67,334.2 65.17,334.34 65.67,334.46 66.17,334.56 66.67,334.65 67.17,334.72 67.67,334.79 68.17,334.84 68.67,334.89 69.17,334.94 69.68,334.97 70.18,335 70.68,335.03 71.18,335.05 71.68,335.07 72.18,335.09 72.68,335.11 73.18,335.12 73.68,335.13 74.18,335.14 74.68,335.15 75.18,335.15 75.68,335.16 76.18,335.17 76.69,335.17 77.19,335.17 77.69,335.18 78.19,335.18 78.69,335.18 79.19,335.19 79.69,335.19 80.19,335.19 80.69,335.19 81.19,335.19 81.69,335.19 82.19,335.19 82.69,335.2 83.19,335.2 83.7,335.2 84.2,335.2 84.7,335.2 85.2,335.2 85.7,335.2 86.2,335.2 86.7,335.2" fill="none" stroke="#9c6ad8" stroke-width="0.9" stroke-linejoin="round"/>
<polyline points="17.1,335.19 17.6,335.19 18.1,335.18 18.6,335.18 19.1,335.18 19.6,335.17 20.1,335.16 20.61,335.16 21.11,335.15 21.61,335.14 22.11,335.12 22.61,335.11 23.11,335.09 23.61,335.07 24.11,335.05 24.61,335.02 25.11,334.98 25.61,334.94 26.11,334.9 26.61,334.85 27.11,334.79 27.62,334.72 28.12,334.64 28.62,334.55 29.12,334.46 29.62,334.34 30.12,334.22 30.62,334.08 31.12,333.92 31.62,333.75 32.12,333.55 32.62,333.34 33.12,333.1 33.62,332.85 34.12,332.56 34.63,332.26 35.13,331.92 35.63,331.56 36.13,331.17 36.63,330.75 37.13,330.3 37.63,329.81 38.13,329.29 38.63,328.73 39.13,328.14 39.63,327.51 40.13,326.85 40.63,326.14 41.13,325.39 41.64,324.61 42.14,323.78 42.64,322.92 43.14,322.02 43.64,321.08 44.14,320.12 44.64,319.13 45.14,318.12 45.64,317.1 46.14,316.07 46.64,315.03 47.14,314 47.64,312.97 48.14,311.95 48.65,310.9 49.15,309.82 49.65,308.64 50.15,307.29 50.65,305.63 51.15,303.44 51.65,300.4 51.75,299.64 51.75,299.64 51.75,299.64 52,297.5 52,297.5 52,297.5 52.15,298.84 52.25,299.64 52.25,299.64 52.25,299.64 52.65,302.35 53.15,304.83 53.65,306.67 54.15,308.13 54.65,309.36 55.15,310.48 55.66,311.53 56.16,312.56 56.66,313.59 57.16,314.62 57.66,315.65 58.16,316.69 58.66,317.72 59.16,318.73 59.66,319.73 60.16,320.7 60.66,321.65 61.16,322.56 61.66,323.44 62.16,324.28 62.67,325.08 63.17,325.85 63.67,326.57 64.17,327.25 64.67,327.9 65.17,328.5 65.67,329.07 66.17,329.61 66.67,330.11 67.17,330.57 67.67,331.01 68.17,331.41 68.67,331.78 69.17,332.13 69.68,332.45 70.18,332.74 70.68,333 71.18,333.25 71.68,333.47 72.18,333.67 72.68,333.85 73.18,334.02 73.68,334.16 74.18,334.3 74.68,334.41 75.18,334.52 75.68,334.61 76.18,334.69 76.69,334.76 77.19,334.82 77.69,334.88 78.19,334.93 78.69,334.97 79.19,335 79.69,335.03 80.19,335.06 80.69,335.08 81.19,335.1 81.69,335.12 82.19,335.13 82.69,335.14 83.19,335.15 83.7,335.16 84.2,335.17 84.7,335.17 85.2,335.18 85.7,335.18 86.2,335.19 86.7,335.19" fill="none" stroke="#fb9058" stroke-width="0.9" stroke-linejoin="round"/>
<rect x="16.6" y="291.7" width="70.6" height="43.5" fill="none" stroke="#8a8a8a" stroke-width="0.7"/>
<path d="M18.9 335.2v-1.6M18.9 291.7v1.6M27.2 335.2v-1.6M27.2 291.7v1.6M35.5 335.2v-1.6M35.5 291.7v1.6M43.8 335.2v-1.6M43.8 291.7v1.6M52.1 335.2v-1.6M52.1 291.7v1.6M60.4 335.2v-1.6M60.4 291.7v1.6M68.7 335.2v-1.6M68.7 291.7v1.6M77 335.2v-1.6M77 291.7v1.6M85.3 335.2v-1.6M85.3 291.7v1.6M16.6 335.1h1.6M87.2 335.1h-1.6M16.6 327.8h1.6M87.2 327.8h-1.6M16.6 320.5h1.6M87.2 320.5h-1.6M16.6 313.2h1.6M87.2 313.2h-1.6M16.6 305.9h1.6M87.2 305.9h-1.6M16.6 298.6h1.6M87.2 298.6h-1.6M16.6 291.6h1.6M87.2 291.6h-1.6" stroke="#8a8a8a" stroke-width="0.5" fill="none"/>
<text x="18.8" y="341.6" font-size="6.7" fill="#1a1a1a" stroke="#1a1a1a" text-anchor="middle">&#8722;8</text>
<text x="27" y="341.6" font-size="6.7" fill="#1a1a1a" stroke="#1a1a1a" text-anchor="middle">&#8722;6</text>
<text x="35.6" y="341.6" font-size="6.7" fill="#1a1a1a" stroke="#1a1a1a" text-anchor="middle">&#8722;4</text>
<text x="43.9" y="341.6" font-size="6.7" fill="#1a1a1a" stroke="#1a1a1a" text-anchor="middle">&#8722;2</text>
<text x="52.1" y="341.6" font-size="6.7" fill="#1a1a1a" stroke="#1a1a1a" text-anchor="middle">0</text>
<text x="60.7" y="341.6" font-size="6.7" fill="#1a1a1a" stroke="#1a1a1a" text-anchor="middle">2</text>
<text x="68.9" y="341.6" font-size="6.7" fill="#1a1a1a" stroke="#1a1a1a" text-anchor="middle">4</text>
<text x="77.2" y="341.6" font-size="6.7" fill="#1a1a1a" stroke="#1a1a1a" text-anchor="middle">6</text>
<text x="85.2" y="341.6" font-size="6.7" fill="#1a1a1a" stroke="#1a1a1a" text-anchor="middle">8</text>
<text x="16.3" y="337.51" font-size="7.3" fill="#1a1a1a" stroke="#1a1a1a" text-anchor="end">0</text>
<text x="16.3" y="330.21" font-size="7.3" fill="#1a1a1a" stroke="#1a1a1a" text-anchor="end">1</text>
<text x="16.3" y="322.91" font-size="7.3" fill="#1a1a1a" stroke="#1a1a1a" text-anchor="end">2</text>
<text x="16.3" y="315.61" font-size="7.3" fill="#1a1a1a" stroke="#1a1a1a" text-anchor="end">3</text>
<text x="16.3" y="308.31" font-size="7.3" fill="#1a1a1a" stroke="#1a1a1a" text-anchor="end">4</text>
<text x="16.3" y="301.01" font-size="7.3" fill="#1a1a1a" stroke="#1a1a1a" text-anchor="end">5</text>
<text x="16.3" y="294.01" font-size="7.3" fill="#1a1a1a" stroke="#1a1a1a" text-anchor="end">6</text>
<text x="55.4" y="348.5" font-size="8.2" fill="#1a1a1a" stroke="#1a1a1a" text-anchor="middle" textLength="50.91" lengthAdjust="spacingAndGlyphs">Differences /m</text>
<text x="8.5" y="312.4" font-size="7.95" fill="#1a1a1a" stroke="#1a1a1a" text-anchor="middle" transform="rotate(-90 8.5 312.4)" textLength="29.82" lengthAdjust="spacingAndGlyphs">Frequency</text>
<text x="17" y="290.8" font-size="5" fill="#1a1a1a" text-anchor="start">&#215;10<tspan dy="-2.1" font-size="4">&#8722;3</tspan></text>
<path d="M18.5 297.9h7.7" stroke="#fb9058" stroke-width="0.9"/>
<path d="M18.5 303.8h7.7" stroke="#9c6ad8" stroke-width="0.9"/>
<text x="28" y="299.91" font-size="6.7" fill="#1a1a1a" stroke="#1a1a1a" text-anchor="start">before</text>
<text x="28" y="305.81" font-size="6.7" fill="#1a1a1a" stroke="#1a1a1a" text-anchor="start">after</text>
<rect x="129.85" y="324" width="3.75" height="17.5" fill="#1f9af0"/>
<rect x="126.25" y="312.15" width="3.6" height="29.35" fill="#126dbd" stroke="#0d4f8c" stroke-width="0.3"/>
<rect x="144" y="324" width="3.75" height="17.5" fill="#1f9af0"/>
<rect x="140.4" y="312.15" width="3.6" height="29.35" fill="#126dbd" stroke="#0d4f8c" stroke-width="0.3"/>
<rect x="158.15" y="334.4" width="3.75" height="7.1" fill="#1f9af0"/>
<rect x="154.55" y="324.15" width="3.6" height="17.35" fill="#126dbd" stroke="#0d4f8c" stroke-width="0.3"/>
<rect x="172.3" y="311.9" width="3.75" height="29.6" fill="#1f9af0"/>
<rect x="168.7" y="293.25" width="3.6" height="48.25" fill="#126dbd" stroke="#0d4f8c" stroke-width="0.3"/>
<rect x="182.7" y="307.25" width="3.75" height="34.25" fill="#df5019"/>
<rect x="186.65" y="334.6" width="3.35" height="6.7" fill="#f4a686" stroke="#a0553a" stroke-width="0.4"/>
<rect x="196.85" y="293.5" width="3.75" height="48" fill="#df5019"/>
<rect x="200.8" y="327.95" width="3.35" height="13.35" fill="#f4a686" stroke="#a0553a" stroke-width="0.4"/>
<path d="M123.1 341.5H207.9" stroke="#555" stroke-width="0.6" fill="none"/>
<path d="M123.1 291H207.9" stroke="#9a9a9a" stroke-width="0.5" fill="none"/>
<path d="M123.1 291V341.5" stroke="#3d9be0" stroke-width="0.65" fill="none"/>
<path d="M207.9 291V341.5" stroke="#ee7a4c" stroke-width="0.65" fill="none"/>
<path d="M123.1 339.25h1.5M123.1 326.1h1.5M123.1 312h1.5M123.1 297.75h1.5" stroke="#3d9be0" stroke-width="0.5" fill="none"/>
<path d="M207.9 339.4h-1.5M207.9 328.75h-1.5M207.9 317.25h-1.5M207.9 304.4h-1.5M207.9 292.75h-1.5" stroke="#ee7a4c" stroke-width="0.5" fill="none"/>
<path d="M129.85 341.5v-1.3M129.85 291v1.3M144 341.5v-1.3M144 291v1.3M158.15 341.5v-1.3M158.15 291v1.3M172.3 341.5v-1.3M172.3 291v1.3M186.45 341.5v-1.3M186.45 291v1.3M200.6 341.5v-1.3M200.6 291v1.3" stroke="#777" stroke-width="0.4" fill="none"/>
<text x="122.5" y="341.63" font-size="7.2" fill="#2f8fe0" stroke="#2f8fe0" text-anchor="end">0</text>
<text x="122.5" y="328.48" font-size="7.2" fill="#2f8fe0" stroke="#2f8fe0" text-anchor="end">1</text>
<text x="122.5" y="314.38" font-size="7.2" fill="#2f8fe0" stroke="#2f8fe0" text-anchor="end">2</text>
<text x="122.5" y="300.13" font-size="7.2" fill="#2f8fe0" stroke="#2f8fe0" text-anchor="end">3</text>
<text x="209.5" y="341.71" font-size="7" fill="#e4703f" stroke="#e4703f" text-anchor="start">0</text>
<text x="209.5" y="331.06" font-size="7" fill="#e4703f" stroke="#e4703f" text-anchor="start">0.02</text>
<text x="209.5" y="319.56" font-size="7" fill="#e4703f" stroke="#e4703f" text-anchor="start">0.04</text>
<text x="209.5" y="306.71" font-size="7" fill="#e4703f" stroke="#e4703f" text-anchor="start">0.06</text>
<text x="209.5" y="295.06" font-size="7" fill="#e4703f" stroke="#e4703f" text-anchor="start">0.08</text>
<text x="129.35" y="346.8" font-size="6.1" fill="#1a1a1a" stroke="#1a1a1a" text-anchor="middle">RMSE</text>
<text x="144.05" y="346.8" font-size="6.1" fill="#1a1a1a" stroke="#1a1a1a" text-anchor="middle">STD</text>
<text x="158.75" y="346.8" font-size="6.1" fill="#1a1a1a" stroke="#1a1a1a" text-anchor="middle">MAD</text>
<text x="173.45" y="346.8" font-size="6.1" fill="#1a1a1a" stroke="#1a1a1a" text-anchor="middle">LE90</text>
<text x="188.15" y="346.8" font-size="6.1" fill="#1a1a1a" stroke="#1a1a1a" text-anchor="middle">ME</text>
<text x="202.85" y="346.8" font-size="6.1" fill="#1a1a1a" stroke="#1a1a1a" text-anchor="middle">MED</text>
<text x="118.5" y="321.4" font-size="9.2" fill="#1a1a1a" stroke="#1a1a1a" text-anchor="middle" transform="rotate(-90 118.5 321.4)" textLength="25.56" lengthAdjust="spacingAndGlyphs">Value /m</text>
<rect x="125.7" y="294.25" width="6.4" height="5.5" fill="#126dbd"/>
<rect x="133.9" y="294.25" width="6.4" height="5.5" fill="#df5019"/>
<rect x="125.7" y="303" width="6.4" height="5.5" fill="#1f9af0"/>
<rect x="134.1" y="303.2" width="6" height="5.1" fill="#f4a686" stroke="#a0553a" stroke-width="0.4"/>
<text x="141.5" y="299.65" font-size="9.5" fill="#1a1a1a" stroke="#1a1a1a" text-anchor="start">before</text>
<text x="141.5" y="308.4" font-size="9.5" fill="#1a1a1a" stroke="#1a1a1a" text-anchor="start">after</text>
<text x="115.7" y="356.3" font-size="7.6" fill="#1a1a1a" stroke="#1a1a1a" text-anchor="middle">30-m TanDEM-X DEM</text>
<polyline points="16.8,428 17.3,428 17.8,428 18.31,428 18.81,428 19.31,428 19.81,428 20.32,428 20.82,428 21.32,428 21.82,428 22.33,427.99 22.83,427.99 23.33,427.99 23.83,427.99 24.34,427.99 24.84,427.99 25.34,427.98 25.84,427.98 26.35,427.98 26.85,427.97 27.35,427.97 27.85,427.96 28.36,427.96 28.86,427.95 29.36,427.94 29.86,427.93 30.37,427.92 30.87,427.91 31.37,427.9 31.87,427.88 32.38,427.86 32.88,427.84 33.38,427.82 33.88,427.8 34.39,427.77 34.89,427.74 35.39,427.7 35.89,427.66 36.4,427.62 36.9,427.57 37.4,427.52 37.9,427.46 38.4,427.4 38.91,427.32 39.41,427.24 39.91,427.15 40.41,427.06 40.92,426.95 41.42,426.82 41.92,426.69 42.42,426.54 42.93,426.37 43.43,426.18 43.93,425.96 44.43,425.72 44.94,425.45 45.44,425.15 45.94,424.8 46.44,424.42 46.95,423.98 47.45,423.49 47.95,422.93 48.45,422.32 48.96,421.62 49.46,420.85 49.96,420 50.46,419.06 50.97,418.03 51.47,416.91 51.97,415.69 52.47,414.38 52.98,412.99 53.48,411.51 53.98,409.95 54.48,408.34 54.99,406.67 55.49,404.97 55.99,403.25 56.49,401.54 57,399.86 57.5,398.23 58,396.67 58.5,395.22 59,393.89 59.51,392.7 60.01,391.68 60.51,390.85 61.01,390.22 61.52,389.81 61.95,389.63 61.95,389.63 62.02,389.61 62.2,389.6 62.2,389.6 62.45,389.63 62.45,389.63 62.52,389.65 63.02,389.9 63.53,390.38 64.03,391.07 64.53,391.95 65.03,393.02 65.54,394.25 66.04,395.62 66.54,397.1 67.04,398.68 67.55,400.33 68.05,402.02 68.55,403.74 69.05,405.45 69.56,407.14 70.06,408.8 70.56,410.4 71.06,411.93 71.57,413.39 72.07,414.76 72.57,416.04 73.07,417.23 73.58,418.33 74.08,419.34 74.58,420.25 75.08,421.08 75.59,421.83 76.09,422.5 76.59,423.1 77.09,423.63 77.6,424.11 78.1,424.53 78.6,424.9 79.1,425.24 79.6,425.53 80.11,425.79 80.61,426.03 81.11,426.23 81.61,426.42 82.12,426.58 82.62,426.73 83.12,426.86 83.62,426.98 84.13,427.08 84.63,427.18 85.13,427.27 85.63,427.34 86.14,427.41 86.64,427.48 87.14,427.54 87.64,427.59 88.15,427.63 88.65,427.68 89.15,427.71 89.65,427.75 90.16,427.78 90.66,427.8 91.16,427.83 91.66,427.85 92.17,427.87 92.67,427.89 93.17,427.9 93.67,427.91 94.18,427.93 94.68,427.94 95.18,427.94 95.68,427.95 96.19,427.96 96.69,427.97 97.19,427.97 97.69,427.97 98.2,427.98 98.7,427.98 99.2,427.98" fill="none" stroke="#9c6ad8" stroke-width="0.9" stroke-linejoin="round"/>
<polyline points="16.8,427.94 17.3,427.93 17.8,427.92 18.31,427.91 18.81,427.9 19.31,427.89 19.81,427.87 20.32,427.86 20.82,427.84 21.32,427.83 21.82,427.81 22.33,427.79 22.83,427.76 23.33,427.74 23.83,427.71 24.34,427.68 24.84,427.65 25.34,427.61 25.84,427.58 26.35,427.53 26.85,427.49 27.35,427.44 27.85,427.39 28.36,427.33 28.86,427.27 29.36,427.2 29.86,427.12 30.37,427.04 30.87,426.95 31.37,426.85 31.87,426.75 32.38,426.63 32.88,426.5 33.38,426.36 33.88,426.21 34.39,426.03 34.89,425.85 35.39,425.64 35.89,425.41 36.4,425.16 36.9,424.89 37.4,424.58 37.9,424.25 38.4,423.88 38.91,423.48 39.41,423.04 39.91,422.55 40.41,422.03 40.92,421.46 41.42,420.84 41.92,420.17 42.42,419.46 42.93,418.69 43.43,417.87 43.93,416.99 44.43,416.07 44.94,415.1 45.44,414.09 45.94,413.03 46.44,411.93 46.95,410.81 47.45,409.65 47.95,408.48 48.45,407.3 48.96,406.12 49.46,404.95 49.96,403.8 50.46,402.67 50.97,401.59 51.47,400.55 51.97,399.58 52.47,398.68 52.98,397.86 53.48,397.14 53.98,396.51 54.48,396 54.99,395.59 55.49,395.31 55.99,395.14 56.15,395.12 56.15,395.12 56.4,395.1 56.4,395.1 56.49,395.1 56.65,395.12 56.65,395.12 57,395.19 57.5,395.4 58,395.73 58.5,396.17 59,396.73 59.51,397.4 60.01,398.16 60.51,399.01 61.01,399.93 61.52,400.93 62.02,401.98 62.52,403.08 63.02,404.22 63.53,405.38 64.03,406.56 64.53,407.74 65.03,408.92 65.54,410.08 66.04,411.23 66.54,412.34 67.04,413.42 67.55,414.47 68.05,415.46 68.55,416.42 69.05,417.32 69.56,418.17 70.06,418.98 70.56,419.73 71.06,420.42 71.57,421.07 72.07,421.67 72.57,422.23 73.07,422.74 73.58,423.2 74.08,423.63 74.58,424.02 75.08,424.37 75.59,424.7 76.09,424.99 76.59,425.26 77.09,425.5 77.6,425.72 78.1,425.92 78.6,426.1 79.1,426.26 79.6,426.41 80.11,426.55 80.61,426.67 81.11,426.79 81.61,426.89 82.12,426.98 82.62,427.07 83.12,427.15 83.62,427.22 84.13,427.29 84.63,427.35 85.13,427.41 85.63,427.46 86.14,427.51 86.64,427.55 87.14,427.59 87.64,427.63 88.15,427.66 88.65,427.69 89.15,427.72 89.65,427.75 90.16,427.77 90.66,427.79 91.16,427.81 91.66,427.83 92.17,427.85 92.67,427.87 93.17,427.88 93.67,427.89 94.18,427.9 94.68,427.91 95.18,427.92 95.68,427.93 96.19,427.94 96.69,427.95 97.19,427.95 97.69,427.96 98.2,427.96 98.7,427.97 99.2,427.97" fill="none" stroke="#fb9058" stroke-width="0.9" stroke-linejoin="round"/>
<rect x="16.3" y="383.6" width="83.4" height="44.4" fill="none" stroke="#8a8a8a" stroke-width="0.7"/>
<path d="M16.8 428v-1.6M16.8 383.6v1.6M39.1 428v-1.6M39.1 383.6v1.6M61.4 428v-1.6M61.4 383.6v1.6M83.7 428v-1.6M83.7 383.6v1.6M94.8 428v-1.6M94.8 383.6v1.6M16.3 428.2h1.6M99.7 428.2h-1.6M16.3 420.9h1.6M99.7 420.9h-1.6M16.3 413.6h1.6M99.7 413.6h-1.6M16.3 406.3h1.6M99.7 406.3h-1.6M16.3 399h1.6M99.7 399h-1.6M16.3 391.7h1.6M99.7 391.7h-1.6M16.3 384.5h1.6M99.7 384.5h-1.6" stroke="#8a8a8a" stroke-width="0.5" fill="none"/>
<text x="21" y="435.6" font-size="7" fill="#1a1a1a" stroke="#1a1a1a" text-anchor="middle">&#8722;40</text>
<text x="41.9" y="435.6" font-size="7" fill="#1a1a1a" stroke="#1a1a1a" text-anchor="middle">&#8722;20</text>
<text x="61.4" y="435.6" font-size="7" fill="#1a1a1a" stroke="#1a1a1a" text-anchor="middle">0</text>
<text x="84" y="435.6" font-size="7" fill="#1a1a1a" stroke="#1a1a1a" text-anchor="middle">20</text>
<text x="94" y="435.6" font-size="7" fill="#1a1a1a" stroke="#1a1a1a" text-anchor="middle">30</text>
<text x="16" y="430.48" font-size="6.9" fill="#1a1a1a" stroke="#1a1a1a" text-anchor="end">0</text>
<text x="16" y="423.18" font-size="6.9" fill="#1a1a1a" stroke="#1a1a1a" text-anchor="end">1</text>
<text x="16" y="415.88" font-size="6.9" fill="#1a1a1a" stroke="#1a1a1a" text-anchor="end">2</text>
<text x="16" y="408.58" font-size="6.9" fill="#1a1a1a" stroke="#1a1a1a" text-anchor="end">3</text>
<text x="16" y="401.28" font-size="6.9" fill="#1a1a1a" stroke="#1a1a1a" text-anchor="end">4</text>
<text x="16" y="393.98" font-size="6.9" fill="#1a1a1a" stroke="#1a1a1a" text-anchor="end">5</text>
<text x="16" y="386.78" font-size="6.9" fill="#1a1a1a" stroke="#1a1a1a" text-anchor="end">6</text>
<text x="61" y="442.2" font-size="8.2" fill="#1a1a1a" stroke="#1a1a1a" text-anchor="middle" textLength="50.91" lengthAdjust="spacingAndGlyphs">Differences /m</text>
<text x="9.1" y="407.5" font-size="7.28" fill="#1a1a1a" stroke="#1a1a1a" text-anchor="middle" transform="rotate(-90 9.1 407.5)" textLength="27.3" lengthAdjust="spacingAndGlyphs">Frequency</text>
<text x="16.6" y="382.3" font-size="7" fill="#1a1a1a" text-anchor="start">&#215;10<tspan dy="-2.94" font-size="5.6">&#8722;3</tspan></text>
<path d="M19.4 389.5h8.2" stroke="#fb9058" stroke-width="0.9"/>
<path d="M19.4 395.4h8.2" stroke="#9c6ad8" stroke-width="0.9"/>
<text x="29.4" y="391.56" font-size="6.85" fill="#1a1a1a" stroke="#1a1a1a" text-anchor="start">before</text>
<text x="29.4" y="397.45" font-size="6.85" fill="#1a1a1a" stroke="#1a1a1a" text-anchor="start">after</text>
<rect x="130.05" y="406.9" width="3.75" height="37.6" fill="#1f9af0"/>
<rect x="126.45" y="397.75" width="3.6" height="46.75" fill="#126dbd" stroke="#0d4f8c" stroke-width="0.3"/>
<rect x="144.2" y="406.9" width="3.75" height="37.6" fill="#1f9af0"/>
<rect x="140.6" y="404.05" width="3.6" height="40.45" fill="#126dbd" stroke="#0d4f8c" stroke-width="0.3"/>
<rect x="158.35" y="422.2" width="3.75" height="22.3" fill="#1f9af0"/>
<rect x="154.75" y="419.05" width="3.6" height="25.45" fill="#126dbd" stroke="#0d4f8c" stroke-width="0.3"/>
<rect x="172.5" y="382.25" width="3.75" height="62.25" fill="#1f9af0"/>
<rect x="168.9" y="367.4" width="3.6" height="77.1" fill="#126dbd" stroke="#0d4f8c" stroke-width="0.3"/>
<rect x="182.9" y="361.6" width="3.75" height="76.6" fill="#df5019"/>
<rect x="186.85" y="361.8" width="3.35" height="2" fill="#f4a686" stroke="#a0553a" stroke-width="0.4"/>
<rect x="197.05" y="361.6" width="3.75" height="75.4" fill="#df5019"/>
<rect x="201" y="361.8" width="3.35" height="3.6" fill="#f4a686" stroke="#a0553a" stroke-width="0.4"/>
<path d="M123.1 444.5H207.7" stroke="#555" stroke-width="0.6" fill="none"/>
<path d="M123.1 361.6H207.7" stroke="#9a9a9a" stroke-width="0.5" fill="none"/>
<path d="M123.1 361.6V444.5" stroke="#3d9be0" stroke-width="0.65" fill="none"/>
<path d="M207.7 361.6V444.5" stroke="#ee7a4c" stroke-width="0.65" fill="none"/>
<path d="M123.1 441.5h1.5M123.1 427.7h1.5M123.1 411.4h1.5M123.1 395.1h1.5M123.1 378h1.5M123.1 363h1.5" stroke="#3d9be0" stroke-width="0.5" fill="none"/>
<path d="M207.7 362h-1.5M207.7 389.4h-1.5M207.7 416.9h-1.5M207.7 443.5h-1.5" stroke="#ee7a4c" stroke-width="0.5" fill="none"/>
<path d="M130.05 444.5v-1.3M130.05 361.6v1.3M144.2 444.5v-1.3M144.2 361.6v1.3M158.35 444.5v-1.3M158.35 361.6v1.3M172.5 444.5v-1.3M172.5 361.6v1.3M186.65 444.5v-1.3M186.65 361.6v1.3M200.8 444.5v-1.3M200.8 361.6v1.3" stroke="#777" stroke-width="0.4" fill="none"/>
<text x="121.3" y="443.74" font-size="6.8" fill="#2f8fe0" stroke="#2f8fe0" text-anchor="end">0</text>
<text x="121.3" y="429.94" font-size="6.8" fill="#2f8fe0" stroke="#2f8fe0" text-anchor="end">4</text>
<text x="121.3" y="413.64" font-size="6.8" fill="#2f8fe0" stroke="#2f8fe0" text-anchor="end">8</text>
<text x="121.3" y="397.34" font-size="6.8" fill="#2f8fe0" stroke="#2f8fe0" text-anchor="end">12</text>
<text x="121.3" y="380.24" font-size="6.8" fill="#2f8fe0" stroke="#2f8fe0" text-anchor="end">16</text>
<text x="121.3" y="365.24" font-size="6.8" fill="#2f8fe0" stroke="#2f8fe0" text-anchor="end">20</text>
<text x="209.3" y="364.44" font-size="7.4" fill="#e4703f" stroke="#e4703f" text-anchor="start">0</text>
<text x="209.3" y="391.84" font-size="7.4" fill="#e4703f" stroke="#e4703f" text-anchor="start">&#8722;2</text>
<text x="209.3" y="419.34" font-size="7.4" fill="#e4703f" stroke="#e4703f" text-anchor="start">&#8722;4</text>
<text x="209.3" y="445.94" font-size="7.4" fill="#e4703f" stroke="#e4703f" text-anchor="start">&#8722;6</text>
<text x="129.55" y="450" font-size="6.1" fill="#1a1a1a" stroke="#1a1a1a" text-anchor="middle">RMSE</text>
<text x="144.25" y="450" font-size="6.1" fill="#1a1a1a" stroke="#1a1a1a" text-anchor="middle">STD</text>
<text x="158.95" y="450" font-size="6.1" fill="#1a1a1a" stroke="#1a1a1a" text-anchor="middle">MAD</text>
<text x="173.65" y="450" font-size="6.1" fill="#1a1a1a" stroke="#1a1a1a" text-anchor="middle">LE90</text>
<text x="188.35" y="450" font-size="6.1" fill="#1a1a1a" stroke="#1a1a1a" text-anchor="middle">ME</text>
<text x="203.05" y="450" font-size="6.1" fill="#1a1a1a" stroke="#1a1a1a" text-anchor="middle">MED</text>
<text x="113.5" y="399.4" font-size="9.2" fill="#1a1a1a" stroke="#1a1a1a" text-anchor="middle" transform="rotate(-90 113.5 399.4)" textLength="25.91" lengthAdjust="spacingAndGlyphs">Value /m</text>
<rect x="126" y="365" width="6.4" height="5.5" fill="#126dbd"/>
<rect x="134.2" y="365" width="6.4" height="5.5" fill="#df5019"/>
<rect x="126" y="374.4" width="6.4" height="5.5" fill="#1f9af0"/>
<rect x="134.4" y="374.6" width="6" height="5.1" fill="#f4a686" stroke="#a0553a" stroke-width="0.4"/>
<text x="141.8" y="370.4" font-size="9.5" fill="#1a1a1a" stroke="#1a1a1a" text-anchor="start">before</text>
<text x="141.8" y="379.8" font-size="9.5" fill="#1a1a1a" stroke="#1a1a1a" text-anchor="start">after</text>
<text x="118.6" y="457.9" font-size="7.7" fill="#1a1a1a" stroke="#1a1a1a" text-anchor="middle">ASTER GDEM</text>
<polyline points="16.8,512 17.3,512 17.8,512 18.3,512 18.8,512 19.3,512 19.8,512 20.3,512 20.8,512 21.3,511.99 21.8,511.99 22.3,511.99 22.8,511.99 23.3,511.99 23.8,511.99 24.3,511.98 24.8,511.98 25.3,511.97 25.8,511.97 26.3,511.96 26.8,511.96 27.3,511.95 27.8,511.94 28.3,511.93 28.8,511.92 29.3,511.91 29.8,511.89 30.3,511.87 30.8,511.85 31.3,511.83 31.8,511.81 32.3,511.78 32.8,511.74 33.3,511.71 33.8,511.66 34.3,511.62 34.8,511.57 35.3,511.51 35.8,511.44 36.3,511.37 36.8,511.29 37.3,511.2 37.8,511.1 38.3,510.99 38.8,510.88 39.3,510.75 39.8,510.6 40.3,510.45 40.8,510.28 41.3,510.09 41.8,509.89 42.3,509.68 42.8,509.44 43.3,509.18 43.8,508.91 44.3,508.6 44.8,508.28 45.3,507.92 45.8,507.54 46.3,507.12 46.8,506.66 47.3,506.16 47.8,505.61 48.3,505.01 48.8,504.35 49.3,503.63 49.8,502.83 50.3,501.95 50.8,500.98 51.3,499.9 51.8,498.72 52.3,497.41 52.8,495.98 53.3,494.41 53.8,492.71 54.3,490.89 54.8,488.95 55.3,486.92 55.8,484.84 56.3,482.74 56.8,480.69 57.3,478.75 57.8,477.01 58.3,475.52 58.8,474.38 59.3,473.63 59.65,473.36 59.65,473.36 59.8,473.31 59.9,473.3 59.9,473.3 60.15,473.36 60.15,473.36 60.3,473.45 60.8,474.03 61.3,475.02 61.8,476.38 62.3,478.03 62.8,479.9 63.3,481.91 63.8,483.99 64.3,486.09 64.8,488.15 65.3,490.13 65.8,492 66.3,493.75 66.8,495.37 67.3,496.85 67.8,498.21 68.3,499.44 68.8,500.56 69.3,501.57 69.8,502.49 70.3,503.32 70.8,504.07 71.3,504.76 71.8,505.38 72.3,505.95 72.8,506.46 73.3,506.94 73.8,507.37 74.3,507.77 74.8,508.14 75.3,508.48 75.8,508.79 76.3,509.08 76.8,509.34 77.3,509.58 77.8,509.81 78.3,510.02 78.8,510.21 79.3,510.38 79.8,510.54 80.3,510.69 80.8,510.82 81.3,510.95 81.8,511.06 82.3,511.16 82.8,511.25 83.3,511.34 83.8,511.41 84.3,511.48 84.8,511.54 85.3,511.6 85.8,511.65 86.3,511.69 86.8,511.73 87.3,511.76 87.8,511.79 88.3,511.82 88.8,511.85 89.3,511.87 89.8,511.89 90.3,511.9 90.8,511.92 91.3,511.93 91.8,511.94 92.3,511.95 92.8,511.96 93.3,511.96 93.8,511.97 94.3,511.97 94.8,511.98 95.3,511.98" fill="none" stroke="#9c6ad8" stroke-width="0.9" stroke-linejoin="round"/>
<polyline points="16.8,511.99 17.3,511.99 17.8,511.99 18.3,511.98 18.8,511.98 19.3,511.98 19.8,511.97 20.3,511.97 20.8,511.96 21.3,511.96 21.8,511.95 22.3,511.94 22.8,511.93 23.3,511.92 23.8,511.9 24.3,511.89 24.8,511.87 25.3,511.85 25.8,511.83 26.3,511.8 26.8,511.77 27.3,511.74 27.8,511.7 28.3,511.66 28.8,511.61 29.3,511.55 29.8,511.49 30.3,511.43 30.8,511.35 31.3,511.27 31.8,511.18 32.3,511.08 32.8,510.97 33.3,510.86 33.8,510.72 34.3,510.58 34.8,510.42 35.3,510.25 35.8,510.07 36.3,509.87 36.8,509.65 37.3,509.41 37.8,509.15 38.3,508.87 38.8,508.57 39.3,508.24 39.8,507.88 40.3,507.49 40.8,507.07 41.3,506.61 41.8,506.1 42.3,505.55 42.8,504.94 43.3,504.28 43.8,503.55 44.3,502.74 44.8,501.84 45.3,500.86 45.8,499.77 46.3,498.57 46.8,497.25 47.3,495.8 47.8,494.22 48.3,492.52 48.8,490.69 49.3,488.76 49.8,486.76 50.3,484.72 50.8,482.69 51.3,480.73 51.8,478.91 52.3,477.3 52.8,475.98 53.3,475.01 53.8,474.44 53.95,474.36 53.95,474.36 54.2,474.3 54.2,474.3 54.3,474.31 54.45,474.36 54.45,474.36 54.8,474.62 55.3,475.35 55.8,476.47 56.3,477.91 56.8,479.61 57.3,481.5 57.8,483.49 58.3,485.54 58.8,487.57 59.3,489.55 59.8,491.43 60.3,493.21 60.8,494.87 61.3,496.39 61.8,497.79 62.3,499.06 62.8,500.22 63.3,501.26 63.8,502.21 64.3,503.07 64.8,503.85 65.3,504.55 65.8,505.19 66.3,505.78 66.8,506.31 67.3,506.8 67.8,507.24 68.3,507.65 68.8,508.03 69.3,508.37 69.8,508.69 70.3,508.99 70.8,509.26 71.3,509.51 71.8,509.74 72.3,509.95 72.8,510.14 73.3,510.32 73.8,510.49 74.3,510.64 74.8,510.78 75.3,510.9 75.8,511.02 76.3,511.12 76.8,511.22 77.3,511.31 77.8,511.39 78.3,511.46 78.8,511.52 79.3,511.58 79.8,511.63 80.3,511.67 80.8,511.71 81.3,511.75 81.8,511.78 82.3,511.81 82.8,511.84 83.3,511.86 83.8,511.88 84.3,511.89 84.8,511.91 85.3,511.92 85.8,511.93 86.3,511.94 86.8,511.95 87.3,511.96 87.8,511.97 88.3,511.97 88.8,511.98 89.3,511.98 89.8,511.98 90.3,511.99 90.8,511.99 91.3,511.99 91.8,511.99 92.3,511.99 92.8,511.99 93.3,512 93.8,512 94.3,512 94.8,512 95.3,512" fill="none" stroke="#fb9058" stroke-width="0.9" stroke-linejoin="round"/>
<rect x="16.3" y="468.8" width="79.5" height="43.2" fill="none" stroke="#8a8a8a" stroke-width="0.7"/>
<path d="M33.3 512v-1.6M33.3 468.8v1.6M50.7 512v-1.6M50.7 468.8v1.6M59.4 512v-1.6M59.4 468.8v1.6M68.1 512v-1.6M68.1 468.8v1.6M85.5 512v-1.6M85.5 468.8v1.6M16.3 513.2h1.6M95.8 513.2h-1.6M16.3 505h1.6M95.8 505h-1.6M16.3 497.8h1.6M95.8 497.8h-1.6M16.3 490.6h1.6M95.8 490.6h-1.6M16.3 483.4h1.6M95.8 483.4h-1.6M16.3 476.2h1.6M95.8 476.2h-1.6M16.3 469h1.6M95.8 469h-1.6" stroke="#8a8a8a" stroke-width="0.5" fill="none"/>
<text x="32" y="518" font-size="7.2" fill="#1a1a1a" stroke="#1a1a1a" text-anchor="middle">&#8722;15</text>
<text x="49.6" y="518" font-size="7.2" fill="#1a1a1a" stroke="#1a1a1a" text-anchor="middle">&#8722;5</text>
<text x="59.4" y="518" font-size="7.2" fill="#1a1a1a" stroke="#1a1a1a" text-anchor="middle">0</text>
<text x="67.2" y="518" font-size="7.2" fill="#1a1a1a" stroke="#1a1a1a" text-anchor="middle">5</text>
<text x="84.7" y="518" font-size="7.2" fill="#1a1a1a" stroke="#1a1a1a" text-anchor="middle">15</text>
<text x="16" y="515.81" font-size="7.9" fill="#1a1a1a" stroke="#1a1a1a" text-anchor="end">0</text>
<text x="16" y="507.61" font-size="7.9" fill="#1a1a1a" stroke="#1a1a1a" text-anchor="end">1</text>
<text x="16" y="500.41" font-size="7.9" fill="#1a1a1a" stroke="#1a1a1a" text-anchor="end">2</text>
<text x="16" y="493.21" font-size="7.9" fill="#1a1a1a" stroke="#1a1a1a" text-anchor="end">3</text>
<text x="16" y="486.01" font-size="7.9" fill="#1a1a1a" stroke="#1a1a1a" text-anchor="end">4</text>
<text x="16" y="478.81" font-size="7.9" fill="#1a1a1a" stroke="#1a1a1a" text-anchor="end">5</text>
<text x="16" y="471.61" font-size="7.9" fill="#1a1a1a" stroke="#1a1a1a" text-anchor="end">6</text>
<text x="50.7" y="523.5" font-size="8.2" fill="#1a1a1a" stroke="#1a1a1a" text-anchor="middle" textLength="50.91" lengthAdjust="spacingAndGlyphs">Differences /m</text>
<text x="8.4" y="492.5" font-size="7.28" fill="#1a1a1a" stroke="#1a1a1a" text-anchor="middle" transform="rotate(-90 8.4 492.5)" textLength="27.3" lengthAdjust="spacingAndGlyphs">Frequency</text>
<text x="17" y="468" font-size="5" fill="#1a1a1a" text-anchor="start">&#215;10<tspan dy="-2.1" font-size="4">&#8722;3</tspan></text>
<path d="M19.4 474.9h8.6" stroke="#fb9058" stroke-width="0.9"/>
<path d="M19.4 480.8h8.6" stroke="#9c6ad8" stroke-width="0.9"/>
<text x="29.8" y="477" font-size="7" fill="#1a1a1a" stroke="#1a1a1a" text-anchor="start">before</text>
<text x="29.8" y="482.9" font-size="7" fill="#1a1a1a" stroke="#1a1a1a" text-anchor="start">after</text>
<rect x="130.05" y="491.9" width="3.75" height="26.85" fill="#1f9af0"/>
<rect x="126.45" y="485.25" width="3.6" height="33.5" fill="#126dbd" stroke="#0d4f8c" stroke-width="0.3"/>
<rect x="144.2" y="491.9" width="3.75" height="26.85" fill="#1f9af0"/>
<rect x="140.6" y="491.55" width="3.6" height="27.2" fill="#126dbd" stroke="#0d4f8c" stroke-width="0.3"/>
<rect x="158.35" y="503.9" width="3.75" height="14.85" fill="#1f9af0"/>
<rect x="154.75" y="503.55" width="3.6" height="15.2" fill="#126dbd" stroke="#0d4f8c" stroke-width="0.3"/>
<rect x="172.5" y="474.6" width="3.75" height="44.15" fill="#1f9af0"/>
<rect x="168.9" y="463.95" width="3.6" height="54.8" fill="#126dbd" stroke="#0d4f8c" stroke-width="0.3"/>
<rect x="182.9" y="468.8" width="3.75" height="49.4" fill="#df5019"/>
<path d="M186.65 468.8h3.75" stroke="#888" stroke-width="0.6"/>
<rect x="197.05" y="468.8" width="3.75" height="46.9" fill="#df5019"/>
<rect x="201" y="466.5" width="3.35" height="2.1" fill="#f4a686" stroke="#a0553a" stroke-width="0.4"/>
<path d="M181.9 468.8H207.7" stroke="#ee7a4c" stroke-width="0.5" stroke-dasharray="0.8 0.8" opacity="0.8"/>
<path d="M123.1 518.75H207.7" stroke="#555" stroke-width="0.6" fill="none"/>
<path d="M123.1 460.6H207.7" stroke="#9a9a9a" stroke-width="0.5" fill="none"/>
<path d="M123.1 460.6V518.75" stroke="#3d9be0" stroke-width="0.65" fill="none"/>
<path d="M207.7 460.6V518.75" stroke="#ee7a4c" stroke-width="0.65" fill="none"/>
<path d="M123.1 516.9h1.5M123.1 506.4h1.5M123.1 495.9h1.5M123.1 485.1h1.5M123.1 473.8h1.5M123.1 462.5h1.5" stroke="#3d9be0" stroke-width="0.5" fill="none"/>
<path d="M207.7 468.8h-1.5M207.7 483.1h-1.5M207.7 496.9h-1.5M207.7 510.9h-1.5" stroke="#ee7a4c" stroke-width="0.5" fill="none"/>
<path d="M130.05 518.75v-1.3M130.05 460.6v1.3M144.2 518.75v-1.3M144.2 460.6v1.3M158.35 518.75v-1.3M158.35 460.6v1.3M172.5 518.75v-1.3M172.5 460.6v1.3M186.65 518.75v-1.3M186.65 460.6v1.3M200.8 518.75v-1.3M200.8 460.6v1.3" stroke="#777" stroke-width="0.4" fill="none"/>
<text x="121.9" y="519.14" font-size="6.8" fill="#2f8fe0" stroke="#2f8fe0" text-anchor="end">0</text>
<text x="121.9" y="508.64" font-size="6.8" fill="#2f8fe0" stroke="#2f8fe0" text-anchor="end">2</text>
<text x="121.9" y="498.14" font-size="6.8" fill="#2f8fe0" stroke="#2f8fe0" text-anchor="end">4</text>
<text x="121.9" y="487.34" font-size="6.8" fill="#2f8fe0" stroke="#2f8fe0" text-anchor="end">6</text>
<text x="121.9" y="476.04" font-size="6.8" fill="#2f8fe0" stroke="#2f8fe0" text-anchor="end">8</text>
<text x="121.9" y="464.74" font-size="6.8" fill="#2f8fe0" stroke="#2f8fe0" text-anchor="end">10</text>
<text x="209.3" y="471.24" font-size="7.4" fill="#e4703f" stroke="#e4703f" text-anchor="start">0</text>
<text x="209.3" y="485.54" font-size="7.4" fill="#e4703f" stroke="#e4703f" text-anchor="start">&#8722;1</text>
<text x="209.3" y="499.34" font-size="7.4" fill="#e4703f" stroke="#e4703f" text-anchor="start">&#8722;2</text>
<text x="209.3" y="513.34" font-size="7.4" fill="#e4703f" stroke="#e4703f" text-anchor="start">&#8722;3</text>
<text x="129.55" y="525.2" font-size="6.1" fill="#1a1a1a" stroke="#1a1a1a" text-anchor="middle">RMSE</text>
<text x="144.25" y="525.2" font-size="6.1" fill="#1a1a1a" stroke="#1a1a1a" text-anchor="middle">STD</text>
<text x="158.95" y="525.2" font-size="6.1" fill="#1a1a1a" stroke="#1a1a1a" text-anchor="middle">MAD</text>
<text x="173.65" y="525.2" font-size="6.1" fill="#1a1a1a" stroke="#1a1a1a" text-anchor="middle">LE90</text>
<text x="188.35" y="525.2" font-size="6.1" fill="#1a1a1a" stroke="#1a1a1a" text-anchor="middle">ME</text>
<text x="203.05" y="525.2" font-size="6.1" fill="#1a1a1a" stroke="#1a1a1a" text-anchor="middle">MED</text>
<rect x="126" y="464.4" width="6.4" height="5.5" fill="#126dbd"/>
<rect x="134.2" y="464.4" width="6.4" height="5.5" fill="#df5019"/>
<rect x="126" y="473.5" width="6.4" height="5.5" fill="#1f9af0"/>
<rect x="134.4" y="473.7" width="6" height="5.1" fill="#f4a686" stroke="#a0553a" stroke-width="0.4"/>
<text x="141.8" y="469.8" font-size="9.5" fill="#1a1a1a" stroke="#1a1a1a" text-anchor="start">before</text>
<text x="141.8" y="478.9" font-size="9.5" fill="#1a1a1a" stroke="#1a1a1a" text-anchor="start">after</text>
<text x="116.3" y="534.6" font-size="7.8" fill="#1a1a1a" stroke="#1a1a1a" text-anchor="middle">SRTM</text>
<text x="118" y="543" font-size="9" fill="#1a1a1a" stroke="#1a1a1a" text-anchor="middle">(c)</text>
<polyline points="242.8,337.39 243.3,337.39 243.8,337.39 244.3,337.39 244.81,337.39 245.31,337.39 245.81,337.38 246.31,337.38 246.81,337.38 247.31,337.38 247.82,337.38 248.32,337.37 248.82,337.37 249.32,337.37 249.82,337.36 250.32,337.36 250.83,337.36 251.33,337.35 251.83,337.35 252.33,337.34 252.83,337.34 253.33,337.33 253.83,337.32 254.34,337.31 254.84,337.3 255.34,337.29 255.84,337.28 256.34,337.27 256.84,337.26 257.35,337.24 257.85,337.23 258.35,337.21 258.85,337.19 259.35,337.16 259.85,337.14 260.35,337.11 260.86,337.08 261.36,337.04 261.86,337.01 262.36,336.96 262.86,336.92 263.36,336.86 263.87,336.8 264.37,336.73 264.87,336.66 265.37,336.57 265.87,336.47 266.37,336.35 266.88,336.22 267.38,336.06 267.88,335.87 268.38,335.64 268.88,335.35 269.38,335 269.88,334.56 270.39,334 270.89,333.27 271.39,332.33 271.89,331.08 272.39,329.41 272.89,327.17 273.4,324.14 273.9,320.02 274.25,316.23 274.25,316.23 274.4,314.38 274.5,313 274.5,313 274.75,316.23 274.75,316.23 274.9,317.94 275.4,322.62 275.9,326.05 276.4,328.58 276.91,330.46 277.41,331.86 277.91,332.92 278.41,333.73 278.91,334.35 279.41,334.84 279.92,335.22 280.42,335.53 280.92,335.78 281.42,335.98 281.92,336.16 282.42,336.3 282.93,336.42 283.43,336.53 283.93,336.62 284.43,336.7 284.93,336.78 285.43,336.84 285.93,336.89 286.44,336.94 286.94,336.99 287.44,337.03 287.94,337.07 288.44,337.1 288.94,337.13 289.45,337.15 289.95,337.18 290.45,337.2 290.95,337.22 291.45,337.24 291.95,337.25 292.45,337.27 292.96,337.28 293.46,337.29 293.96,337.3 294.46,337.31 294.96,337.32 295.46,337.33 295.97,337.33 296.47,337.34 296.97,337.35 297.47,337.35 297.97,337.36 298.47,337.36 298.98,337.36 299.48,337.37 299.98,337.37 300.48,337.37 300.98,337.38 301.48,337.38 301.98,337.38 302.49,337.38 302.99,337.38 303.49,337.39 303.99,337.39 304.49,337.39 304.99,337.39 305.5,337.39 306,337.39 306.5,337.39 307,337.39" fill="none" stroke="#9c6ad8" stroke-width="0.9" stroke-linejoin="round"/>
<polyline points="242.8,337.37 243.3,337.36 243.8,337.36 244.3,337.36 244.81,337.35 245.31,337.35 245.81,337.34 246.31,337.34 246.81,337.33 247.31,337.33 247.82,337.32 248.32,337.31 248.82,337.31 249.32,337.3 249.82,337.29 250.32,337.28 250.83,337.27 251.33,337.26 251.83,337.24 252.33,337.23 252.83,337.22 253.33,337.2 253.83,337.18 254.34,337.16 254.84,337.14 255.34,337.12 255.84,337.1 256.34,337.07 256.84,337.04 257.35,337.01 257.85,336.97 258.35,336.93 258.85,336.89 259.35,336.85 259.85,336.8 260.35,336.74 260.86,336.68 261.36,336.61 261.86,336.54 262.36,336.45 262.86,336.36 263.36,336.26 263.87,336.14 264.37,336 264.87,335.85 265.37,335.67 265.87,335.46 266.37,335.22 266.88,334.93 267.38,334.59 267.88,334.17 268.38,333.66 268.88,333.03 269.38,332.25 269.88,331.27 270.39,330.04 270.89,328.48 271.39,326.49 271.89,323.94 272.39,320.64 272.89,316.38 273.4,310.85 273.9,303.64 274.25,297.28 274.25,297.28 274.4,294.23 274.5,292 274.5,292 274.75,297.28 274.75,297.28 274.9,300.13 275.4,308.15 275.9,314.31 276.4,319.05 276.91,322.7 277.41,325.53 277.91,327.74 278.41,329.46 278.91,330.81 279.41,331.88 279.92,332.73 280.42,333.42 280.92,333.97 281.42,334.43 281.92,334.8 282.42,335.11 282.93,335.37 283.43,335.59 283.93,335.78 284.43,335.94 284.93,336.09 285.43,336.21 285.93,336.32 286.44,336.42 286.94,336.5 287.44,336.58 287.94,336.65 288.44,336.72 288.94,336.77 289.45,336.83 289.95,336.87 290.45,336.92 290.95,336.96 291.45,336.99 291.95,337.03 292.45,337.06 292.96,337.08 293.46,337.11 293.96,337.13 294.46,337.15 294.96,337.17 295.46,337.19 295.97,337.21 296.47,337.22 296.97,337.24 297.47,337.25 297.97,337.26 298.47,337.27 298.98,337.28 299.48,337.29 299.98,337.3 300.48,337.31 300.98,337.32 301.48,337.32 301.98,337.33 302.49,337.34 302.99,337.34 303.49,337.35 303.99,337.35 304.49,337.35 304.99,337.36 305.5,337.36 306,337.36 306.5,337.37 307,337.37" fill="none" stroke="#fb9058" stroke-width="0.9" stroke-linejoin="round"/>
<rect x="242.3" y="291.1" width="65.2" height="46.3" fill="none" stroke="#8a8a8a" stroke-width="0.7"/>
<path d="M246.2 337.4v-1.6M246.2 291.1v1.6M253.25 337.4v-1.6M253.25 291.1v1.6M260.3 337.4v-1.6M260.3 291.1v1.6M267.35 337.4v-1.6M267.35 291.1v1.6M274.4 337.4v-1.6M274.4 291.1v1.6M281.45 337.4v-1.6M281.45 291.1v1.6M288.5 337.4v-1.6M288.5 291.1v1.6M295.55 337.4v-1.6M295.55 291.1v1.6M302.6 337.4v-1.6M302.6 291.1v1.6M242.3 337.6h1.6M307.5 337.6h-1.6M242.3 330h1.6M307.5 330h-1.6M242.3 322.5h1.6M307.5 322.5h-1.6M242.3 315h1.6M307.5 315h-1.6M242.3 307.4h1.6M307.5 307.4h-1.6M242.3 299.8h1.6M307.5 299.8h-1.6M242.3 292.3h1.6M307.5 292.3h-1.6" stroke="#8a8a8a" stroke-width="0.5" fill="none"/>
<text x="246.4" y="343.7" font-size="7" fill="#1a1a1a" stroke="#1a1a1a" text-anchor="middle">&#8722;4</text>
<text x="253.8" y="343.7" font-size="7" fill="#1a1a1a" stroke="#1a1a1a" text-anchor="middle">&#8722;3</text>
<text x="260.8" y="343.7" font-size="7" fill="#1a1a1a" stroke="#1a1a1a" text-anchor="middle">&#8722;2</text>
<text x="267.7" y="343.7" font-size="7" fill="#1a1a1a" stroke="#1a1a1a" text-anchor="middle">&#8722;1</text>
<text x="274.4" y="343.7" font-size="7" fill="#1a1a1a" stroke="#1a1a1a" text-anchor="middle">0</text>
<text x="281.45" y="343.7" font-size="7" fill="#1a1a1a" stroke="#1a1a1a" text-anchor="middle">1</text>
<text x="288.5" y="343.7" font-size="7" fill="#1a1a1a" stroke="#1a1a1a" text-anchor="middle">2</text>
<text x="295.55" y="343.7" font-size="7" fill="#1a1a1a" stroke="#1a1a1a" text-anchor="middle">3</text>
<text x="301.5" y="343.7" font-size="7" fill="#1a1a1a" stroke="#1a1a1a" text-anchor="middle">4</text>
<text x="242" y="340.04" font-size="7.4" fill="#1a1a1a" stroke="#1a1a1a" text-anchor="end">0</text>
<text x="242" y="332.44" font-size="7.4" fill="#1a1a1a" stroke="#1a1a1a" text-anchor="end">2</text>
<text x="242" y="324.94" font-size="7.4" fill="#1a1a1a" stroke="#1a1a1a" text-anchor="end">4</text>
<text x="242" y="317.44" font-size="7.4" fill="#1a1a1a" stroke="#1a1a1a" text-anchor="end">6</text>
<text x="242" y="309.84" font-size="7.4" fill="#1a1a1a" stroke="#1a1a1a" text-anchor="end">8</text>
<text x="242" y="302.24" font-size="7.4" fill="#1a1a1a" stroke="#1a1a1a" text-anchor="end">10</text>
<text x="242" y="294.74" font-size="7.4" fill="#1a1a1a" stroke="#1a1a1a" text-anchor="end">12</text>
<text x="276.4" y="350" font-size="8.2" fill="#1a1a1a" stroke="#1a1a1a" text-anchor="middle" textLength="50.91" lengthAdjust="spacingAndGlyphs">Differences /m</text>
<text x="234.5" y="311.8" font-size="7.95" fill="#1a1a1a" stroke="#1a1a1a" text-anchor="middle" transform="rotate(-90 234.5 311.8)" textLength="29.82" lengthAdjust="spacingAndGlyphs">Frequency</text>
<text x="242.3" y="289.8" font-size="7.5" fill="#1a1a1a" text-anchor="start">&#215;10<tspan dy="-3.15" font-size="6">&#8722;3</tspan></text>
<path d="M244.8 296.6h6.6" stroke="#fb9058" stroke-width="0.9"/>
<path d="M244.8 302.5h6.6" stroke="#9c6ad8" stroke-width="0.9"/>
<text x="253.2" y="298.61" font-size="6.7" fill="#1a1a1a" stroke="#1a1a1a" text-anchor="start">before</text>
<text x="253.2" y="304.51" font-size="6.7" fill="#1a1a1a" stroke="#1a1a1a" text-anchor="start">after</text>
<rect x="344.95" y="319.25" width="3.75" height="23.5" fill="#1f9af0"/>
<rect x="341.35" y="314.15" width="3.6" height="28.6" fill="#126dbd" stroke="#0d4f8c" stroke-width="0.3"/>
<rect x="359.1" y="319.25" width="3.75" height="23.5" fill="#1f9af0"/>
<rect x="355.5" y="314.15" width="3.6" height="28.6" fill="#126dbd" stroke="#0d4f8c" stroke-width="0.3"/>
<rect x="373.25" y="335.9" width="3.75" height="6.85" fill="#1f9af0"/>
<rect x="369.65" y="335.05" width="3.6" height="7.7" fill="#126dbd" stroke="#0d4f8c" stroke-width="0.3"/>
<rect x="387.4" y="302.6" width="3.75" height="40.15" fill="#1f9af0"/>
<rect x="383.8" y="292.55" width="3.6" height="50.2" fill="#126dbd" stroke="#0d4f8c" stroke-width="0.3"/>
<rect x="397.8" y="300" width="3.75" height="33.9" fill="#df5019"/>
<rect x="401.75" y="319" width="3.35" height="14.7" fill="#f4a686" stroke="#a0553a" stroke-width="0.4"/>
<rect x="411.95" y="303.8" width="3.75" height="30.1" fill="#df5019"/>
<rect x="415.9" y="334.1" width="3.35" height="2.6" fill="#f4a686" stroke="#a0553a" stroke-width="0.4"/>
<path d="M396.8 333.9H423" stroke="#ee7a4c" stroke-width="0.5" stroke-dasharray="0.8 0.8" opacity="0.8"/>
<path d="M338 342.75H423" stroke="#555" stroke-width="0.6" fill="none"/>
<path d="M338 292.4H423" stroke="#9a9a9a" stroke-width="0.5" fill="none"/>
<path d="M338 292.4V342.75" stroke="#3d9be0" stroke-width="0.65" fill="none"/>
<path d="M423 292.4V342.75" stroke="#ee7a4c" stroke-width="0.65" fill="none"/>
<path d="M338 339.5h1.5M338 330.5h1.5M338 320.5h1.5M338 310.5h1.5M338 300.5h1.5" stroke="#3d9be0" stroke-width="0.5" fill="none"/>
<path d="M423 333.4h-1.5M423 318.1h-1.5M423 301.8h-1.5" stroke="#ee7a4c" stroke-width="0.5" fill="none"/>
<path d="M344.95 342.75v-1.3M344.95 292.4v1.3M359.1 342.75v-1.3M359.1 292.4v1.3M373.25 342.75v-1.3M373.25 292.4v1.3M387.4 342.75v-1.3M387.4 292.4v1.3M401.55 342.75v-1.3M401.55 292.4v1.3M415.7 342.75v-1.3M415.7 292.4v1.3" stroke="#777" stroke-width="0.4" fill="none"/>
<text x="336.8" y="341.61" font-size="6.4" fill="#4aa0e2" stroke="#4aa0e2" text-anchor="end">0</text>
<text x="336.8" y="332.61" font-size="6.4" fill="#4aa0e2" stroke="#4aa0e2" text-anchor="end">0.4</text>
<text x="336.8" y="322.61" font-size="6.4" fill="#4aa0e2" stroke="#4aa0e2" text-anchor="end">0.8</text>
<text x="336.8" y="312.61" font-size="6.4" fill="#4aa0e2" stroke="#4aa0e2" text-anchor="end">1.2</text>
<text x="336.8" y="302.61" font-size="6.4" fill="#4aa0e2" stroke="#4aa0e2" text-anchor="end">1.6</text>
<text x="424.6" y="335.71" font-size="7" fill="#e4703f" stroke="#e4703f" text-anchor="start">0</text>
<text x="424.6" y="320.41" font-size="7" fill="#e4703f" stroke="#e4703f" text-anchor="start">0.01</text>
<text x="424.6" y="304.11" font-size="7" fill="#e4703f" stroke="#e4703f" text-anchor="start">0.02</text>
<text x="344.45" y="348" font-size="6.1" fill="#1a1a1a" stroke="#1a1a1a" text-anchor="middle">RMSE</text>
<text x="359.15" y="348" font-size="6.1" fill="#1a1a1a" stroke="#1a1a1a" text-anchor="middle">STD</text>
<text x="373.85" y="348" font-size="6.1" fill="#1a1a1a" stroke="#1a1a1a" text-anchor="middle">MAD</text>
<text x="388.55" y="348" font-size="6.1" fill="#1a1a1a" stroke="#1a1a1a" text-anchor="middle">LE90</text>
<text x="403.25" y="348" font-size="6.1" fill="#1a1a1a" stroke="#1a1a1a" text-anchor="middle">ME</text>
<text x="417.95" y="348" font-size="6.1" fill="#1a1a1a" stroke="#1a1a1a" text-anchor="middle">MED</text>
<text x="328.65" y="318" font-size="9.2" fill="#1a1a1a" stroke="#1a1a1a" text-anchor="middle" transform="rotate(-90 328.65 318)" textLength="25.91" lengthAdjust="spacingAndGlyphs">Value /m</text>
<rect x="342.4" y="295.25" width="6.4" height="5.5" fill="#126dbd"/>
<rect x="350.6" y="295.25" width="6.4" height="5.5" fill="#df5019"/>
<rect x="342.4" y="304.25" width="6.4" height="5.5" fill="#1f9af0"/>
<rect x="350.8" y="304.45" width="6" height="5.1" fill="#f4a686" stroke="#a0553a" stroke-width="0.4"/>
<text x="358.2" y="300.65" font-size="9.5" fill="#1a1a1a" stroke="#1a1a1a" text-anchor="start">before</text>
<text x="358.2" y="309.65" font-size="9.5" fill="#1a1a1a" stroke="#1a1a1a" text-anchor="start">after</text>
<text x="330.6" y="358.1" font-size="7.6" fill="#1a1a1a" stroke="#1a1a1a" text-anchor="middle">30-m TanDEM-X DEM</text>
<polyline points="242.5,424.44 243,424.41 243.5,424.37 244,424.33 244.5,424.29 245,424.24 245.5,424.19 246,424.13 246.5,424.08 247,424.01 247.5,423.95 248,423.88 248.5,423.8 249,423.72 249.5,423.63 250,423.54 250.5,423.44 251,423.33 251.5,423.22 252,423.1 252.5,422.98 253,422.85 253.5,422.7 254,422.55 254.5,422.39 255,422.23 255.5,422.05 256,421.86 256.5,421.65 257,421.44 257.5,421.21 258,420.97 258.5,420.71 259,420.44 259.5,420.14 260,419.83 260.5,419.49 261,419.13 261.5,418.74 262,418.33 262.5,417.88 263,417.39 263.5,416.87 264,416.3 264.5,415.68 265,415.01 265.5,414.28 266,413.48 266.5,412.62 267,411.68 267.5,410.66 268,409.55 268.5,408.35 269,407.05 269.5,405.65 270,404.15 270.5,402.55 271,400.86 271.5,399.08 272,397.22 272.5,395.31 273,393.37 273.5,391.41 274,389.49 274.5,387.62 275,385.87 275.5,384.26 276,382.84 276.5,381.65 277,380.74 277.5,380.12 277.95,379.84 277.95,379.84 278,379.83 278.2,379.8 278.2,379.8 278.45,379.84 278.45,379.84 278.5,379.86 279,380.22 279.5,380.9 280,381.87 280.5,383.1 281,384.56 281.5,386.21 282,387.99 282.5,389.87 283,391.8 283.5,393.76 284,395.7 284.5,397.6 285,399.44 285.5,401.2 286,402.88 286.5,404.46 287,405.94 287.5,407.31 288,408.59 288.5,409.78 289,410.87 289.5,411.87 290,412.8 290.5,413.65 291,414.43 291.5,415.15 292,415.81 292.5,416.42 293,416.98 293.5,417.49 294,417.97 294.5,418.41 295,418.82 295.5,419.21 296,419.56 296.5,419.89 297,420.2 297.5,420.49 298,420.76 298.5,421.02 299,421.26 299.5,421.48 300,421.69 300.5,421.89 301,422.08 301.5,422.26 302,422.43 302.5,422.58 303,422.73 303.5,422.87 304,423 304.5,423.13 305,423.25 305.5,423.36 306,423.46 306.5,423.56 307,423.65 307.5,423.73 308,423.81 308.5,423.89 309,423.96 309.5,424.03 310,424.09 310.5,424.15 311,424.2 311.5,424.25 312,424.29 312.5,424.34 313,424.38 313.5,424.41 314,424.45 314.5,424.48 315,424.51 315.5,424.53 316,424.56 316.5,424.58 317,424.6 317.5,424.62 318,424.64 318.5,424.65 319,424.67 319.5,424.68 320,424.69 320.5,424.7 321,424.71" fill="none" stroke="#9c6ad8" stroke-width="0.9" stroke-linejoin="round"/>
<polyline points="242.5,424.54 243,424.51 243.5,424.48 244,424.45 244.5,424.41 245,424.38 245.5,424.34 246,424.29 246.5,424.25 247,424.2 247.5,424.14 248,424.09 248.5,424.02 249,423.96 249.5,423.89 250,423.81 250.5,423.73 251,423.64 251.5,423.54 252,423.44 252.5,423.34 253,423.22 253.5,423.1 254,422.97 254.5,422.84 255,422.69 255.5,422.53 256,422.37 256.5,422.19 257,422 257.5,421.8 258,421.59 258.5,421.36 259,421.11 259.5,420.86 260,420.58 260.5,420.28 261,419.97 261.5,419.63 262,419.26 262.5,418.87 263,418.45 263.5,418 264,417.51 264.5,416.99 265,416.42 265.5,415.81 266,415.15 266.5,414.43 267,413.66 267.5,412.83 268,411.93 268.5,410.95 269,409.91 269.5,408.78 270,407.58 270.5,406.29 271,404.93 271.5,403.48 272,401.95 272.5,400.36 273,398.71 273.5,397.01 274,395.28 274.5,393.55 275,391.83 275.5,390.15 276,388.55 276.5,387.05 277,385.7 277.5,384.51 278,383.53 278.5,382.77 279,382.27 279.45,382.03 279.45,382.03 279.5,382.02 279.7,382 279.7,382 279.95,382.03 279.95,382.03 280,382.05 280.5,382.35 281,382.9 281.5,383.71 282,384.73 282.5,385.96 283,387.34 283.5,388.86 284,390.48 284.5,392.17 285,393.9 285.5,395.63 286,397.35 286.5,399.04 287,400.69 287.5,402.27 288,403.77 288.5,405.21 289,406.56 289.5,407.83 290,409.01 290.5,410.12 291,411.15 291.5,412.11 292,413 292.5,413.82 293,414.58 293.5,415.28 294,415.93 294.5,416.54 295,417.09 295.5,417.61 296,418.09 296.5,418.54 297,418.95 297.5,419.34 298,419.7 298.5,420.03 299,420.34 299.5,420.64 300,420.91 300.5,421.16 301,421.4 301.5,421.63 302,421.84 302.5,422.04 303,422.23 303.5,422.4 304,422.56 304.5,422.72 305,422.86 305.5,423 306,423.13 306.5,423.25 307,423.36 307.5,423.47 308,423.56 308.5,423.66 309,423.74 309.5,423.82 310,423.9 310.5,423.97 311,424.04 311.5,424.1 312,424.16 312.5,424.21 313,424.26 313.5,424.3 314,424.35 314.5,424.38 315,424.42 315.5,424.45 316,424.49 316.5,424.51 317,424.54 317.5,424.56 318,424.59 318.5,424.61 319,424.63 319.5,424.64 320,424.66 320.5,424.67 321,424.68" fill="none" stroke="#fb9058" stroke-width="0.9" stroke-linejoin="round"/>
<rect x="242" y="379.4" width="79.5" height="45.4" fill="none" stroke="#8a8a8a" stroke-width="0.7"/>
<path d="M244.5 424.8v-1.6M244.5 379.4v1.6M261.7 424.8v-1.6M261.7 379.4v1.6M278.9 424.8v-1.6M278.9 379.4v1.6M296.1 424.8v-1.6M296.1 379.4v1.6M313.3 424.8v-1.6M313.3 379.4v1.6M242 424h1.6M321.5 424h-1.6M242 414.2h1.6M321.5 414.2h-1.6M242 404h1.6M321.5 404h-1.6M242 393.8h1.6M321.5 393.8h-1.6M242 383.8h1.6M321.5 383.8h-1.6" stroke="#8a8a8a" stroke-width="0.5" fill="none"/>
<text x="245.4" y="431" font-size="7" fill="#1a1a1a" stroke="#1a1a1a" text-anchor="middle">&#8722;20</text>
<text x="262.4" y="431" font-size="7" fill="#1a1a1a" stroke="#1a1a1a" text-anchor="middle">&#8722;10</text>
<text x="278.9" y="431" font-size="7" fill="#1a1a1a" stroke="#1a1a1a" text-anchor="middle">0</text>
<text x="295.9" y="431" font-size="7" fill="#1a1a1a" stroke="#1a1a1a" text-anchor="middle">10</text>
<text x="313.3" y="431" font-size="7" fill="#1a1a1a" stroke="#1a1a1a" text-anchor="middle">20</text>
<text x="241.7" y="426.31" font-size="7" fill="#1a1a1a" stroke="#1a1a1a" text-anchor="end">0</text>
<text x="241.7" y="415.85" font-size="5" fill="#1a1a1a" stroke="#1a1a1a" text-anchor="end">1</text>
<text x="241.7" y="406.31" font-size="7" fill="#1a1a1a" stroke="#1a1a1a" text-anchor="end">2</text>
<text x="241.7" y="395.45" font-size="5" fill="#1a1a1a" stroke="#1a1a1a" text-anchor="end">3</text>
<text x="241.7" y="386.11" font-size="7" fill="#1a1a1a" stroke="#1a1a1a" text-anchor="end">4</text>
<text x="281.8" y="437.2" font-size="8.2" fill="#1a1a1a" stroke="#1a1a1a" text-anchor="middle" textLength="50.91" lengthAdjust="spacingAndGlyphs">Differences /m</text>
<text x="235.1" y="403.4" font-size="7.17" fill="#1a1a1a" stroke="#1a1a1a" text-anchor="middle" transform="rotate(-90 235.1 403.4)" textLength="26.88" lengthAdjust="spacingAndGlyphs">Frequency</text>
<text x="241.6" y="376.8" font-size="6.6" fill="#1a1a1a" text-anchor="start">&#215;10<tspan dy="-2.77" font-size="5.28">&#8722;3</tspan></text>
<path d="M244.1 383.2h6.9" stroke="#fb9058" stroke-width="0.9"/>
<path d="M244.1 389.1h6.9" stroke="#9c6ad8" stroke-width="0.9"/>
<text x="252.8" y="385.21" font-size="6.7" fill="#1a1a1a" stroke="#1a1a1a" text-anchor="start">before</text>
<text x="252.8" y="391.11" font-size="6.7" fill="#1a1a1a" stroke="#1a1a1a" text-anchor="start">after</text>
<rect x="344.95" y="410.5" width="3.75" height="34.7" fill="#1f9af0"/>
<rect x="341.35" y="406.15" width="3.6" height="39.05" fill="#126dbd" stroke="#0d4f8c" stroke-width="0.3"/>
<rect x="359.1" y="410.5" width="3.75" height="34.7" fill="#1f9af0"/>
<rect x="355.5" y="407.15" width="3.6" height="38.05" fill="#126dbd" stroke="#0d4f8c" stroke-width="0.3"/>
<rect x="373.25" y="425.2" width="3.75" height="20" fill="#1f9af0"/>
<rect x="369.65" y="424.05" width="3.6" height="21.15" fill="#126dbd" stroke="#0d4f8c" stroke-width="0.3"/>
<rect x="387.4" y="388.1" width="3.75" height="57.1" fill="#1f9af0"/>
<rect x="383.8" y="380.25" width="3.6" height="64.95" fill="#126dbd" stroke="#0d4f8c" stroke-width="0.3"/>
<rect x="397.8" y="374.5" width="3.75" height="55.2" fill="#df5019"/>
<rect x="401.75" y="429.9" width="3.35" height="6.8" fill="#f4a686" stroke="#a0553a" stroke-width="0.4"/>
<rect x="411.95" y="391.8" width="3.75" height="37.9" fill="#df5019"/>
<rect x="415.9" y="429.9" width="3.35" height="11.4" fill="#f4a686" stroke="#a0553a" stroke-width="0.4"/>
<path d="M396.8 429.7H423" stroke="#ee7a4c" stroke-width="0.5" stroke-dasharray="0.8 0.8" opacity="0.8"/>
<path d="M337.6 445.2H423" stroke="#555" stroke-width="0.6" fill="none"/>
<path d="M337.6 368.25H423" stroke="#9a9a9a" stroke-width="0.5" fill="none"/>
<path d="M337.6 368.25V445.2" stroke="#3d9be0" stroke-width="0.65" fill="none"/>
<path d="M423 368.25V445.2" stroke="#ee7a4c" stroke-width="0.65" fill="none"/>
<path d="M337.6 444h1.5M337.6 419.5h1.5M337.6 393.9h1.5M337.6 368.9h1.5" stroke="#3d9be0" stroke-width="0.5" fill="none"/>
<path d="M423 368.8h-1.5M423 383.8h-1.5M423 399.3h-1.5M423 413.9h-1.5M423 428.9h-1.5M423 444h-1.5" stroke="#ee7a4c" stroke-width="0.5" fill="none"/>
<path d="M344.95 445.2v-1.3M344.95 368.25v1.3M359.1 445.2v-1.3M359.1 368.25v1.3M373.25 445.2v-1.3M373.25 368.25v1.3M387.4 445.2v-1.3M387.4 368.25v1.3M401.55 445.2v-1.3M401.55 368.25v1.3M415.7 445.2v-1.3M415.7 368.25v1.3" stroke="#777" stroke-width="0.4" fill="none"/>
<text x="336.7" y="446.18" font-size="6.6" fill="#2f8fe0" stroke="#2f8fe0" text-anchor="end">0</text>
<text x="336.7" y="421.68" font-size="6.6" fill="#2f8fe0" stroke="#2f8fe0" text-anchor="end">4</text>
<text x="336.7" y="396.08" font-size="6.6" fill="#2f8fe0" stroke="#2f8fe0" text-anchor="end">8</text>
<text x="336.7" y="371.08" font-size="6.6" fill="#2f8fe0" stroke="#2f8fe0" text-anchor="end">12</text>
<text x="424.6" y="371.18" font-size="7.2" fill="#e4703f" stroke="#e4703f" text-anchor="start">1.6</text>
<text x="424.6" y="386.18" font-size="7.2" fill="#e4703f" stroke="#e4703f" text-anchor="start">1.2</text>
<text x="424.6" y="401.68" font-size="7.2" fill="#e4703f" stroke="#e4703f" text-anchor="start">0.8</text>
<text x="424.6" y="416.28" font-size="7.2" fill="#e4703f" stroke="#e4703f" text-anchor="start">0.4</text>
<text x="424.6" y="431.28" font-size="7.2" fill="#e4703f" stroke="#e4703f" text-anchor="start">0</text>
<text x="424.6" y="446.38" font-size="7.2" fill="#e4703f" stroke="#e4703f" text-anchor="start">&#8722;0.4</text>
<text x="344.45" y="450.4" font-size="6.1" fill="#1a1a1a" stroke="#1a1a1a" text-anchor="middle">RMSE</text>
<text x="359.15" y="450.4" font-size="6.1" fill="#1a1a1a" stroke="#1a1a1a" text-anchor="middle">STD</text>
<text x="373.85" y="450.4" font-size="6.1" fill="#1a1a1a" stroke="#1a1a1a" text-anchor="middle">MAD</text>
<text x="388.55" y="450.4" font-size="6.1" fill="#1a1a1a" stroke="#1a1a1a" text-anchor="middle">LE90</text>
<text x="403.25" y="450.4" font-size="6.1" fill="#1a1a1a" stroke="#1a1a1a" text-anchor="middle">ME</text>
<text x="417.95" y="450.4" font-size="6.1" fill="#1a1a1a" stroke="#1a1a1a" text-anchor="middle">MED</text>
<text x="331.9" y="404.5" font-size="9.2" fill="#1a1a1a" stroke="#1a1a1a" text-anchor="middle" transform="rotate(-90 331.9 404.5)" textLength="25.91" lengthAdjust="spacingAndGlyphs">Value /m</text>
<rect x="341.1" y="371.75" width="6.4" height="5.5" fill="#126dbd"/>
<rect x="349.3" y="371.75" width="6.4" height="5.5" fill="#df5019"/>
<rect x="341.1" y="380.5" width="6.4" height="5.5" fill="#1f9af0"/>
<rect x="349.5" y="380.7" width="6" height="5.1" fill="#f4a686" stroke="#a0553a" stroke-width="0.4"/>
<text x="356.9" y="377.15" font-size="9.5" fill="#1a1a1a" stroke="#1a1a1a" text-anchor="start">before</text>
<text x="356.9" y="385.9" font-size="9.5" fill="#1a1a1a" stroke="#1a1a1a" text-anchor="start">after</text>
<text x="335.7" y="458.6" font-size="7.7" fill="#1a1a1a" stroke="#1a1a1a" text-anchor="middle">ASTER GDEM</text>
<polyline points="242.8,514.99 243.3,514.99 243.8,514.99 244.3,514.99 244.81,514.98 245.31,514.98 245.81,514.98 246.31,514.97 246.81,514.96 247.31,514.96 247.81,514.95 248.32,514.94 248.82,514.92 249.32,514.91 249.82,514.89 250.32,514.87 250.82,514.85 251.32,514.82 251.82,514.79 252.33,514.76 252.83,514.72 253.33,514.67 253.83,514.62 254.33,514.56 254.83,514.49 255.33,514.41 255.84,514.33 256.34,514.23 256.84,514.12 257.34,514 257.84,513.86 258.34,513.72 258.84,513.55 259.35,513.37 259.85,513.17 260.35,512.95 260.85,512.71 261.35,512.45 261.85,512.17 262.35,511.86 262.85,511.52 263.36,511.16 263.86,510.77 264.36,510.34 264.86,509.87 265.36,509.37 265.86,508.82 266.36,508.21 266.87,507.56 267.37,506.84 267.87,506.04 268.37,505.17 268.87,504.2 269.37,503.12 269.87,501.92 270.38,500.58 270.88,499.1 271.38,497.46 271.88,495.65 272.38,493.67 272.88,491.54 273.38,489.28 273.88,486.93 274.39,484.57 274.89,482.27 275.39,480.13 275.89,478.27 276.39,476.81 276.89,475.83 277.25,475.47 277.25,475.47 277.39,475.41 277.5,475.4 277.5,475.4 277.75,475.47 277.75,475.47 277.9,475.58 278.4,476.33 278.9,477.6 279.4,479.31 279.9,481.34 280.4,483.59 280.9,485.94 281.41,488.3 281.91,490.6 282.41,492.79 282.91,494.84 283.41,496.72 283.91,498.43 284.41,499.98 284.92,501.37 285.42,502.63 285.92,503.76 286.42,504.77 286.92,505.68 287.42,506.51 287.92,507.26 288.42,507.95 288.93,508.57 289.43,509.14 289.93,509.66 290.43,510.15 290.93,510.59 291.43,511 291.93,511.37 292.44,511.72 292.94,512.04 293.44,512.34 293.94,512.61 294.44,512.85 294.94,513.08 295.44,513.29 295.95,513.48 296.45,513.65 296.95,513.8 297.45,513.94 297.95,514.07 298.45,514.18 298.95,514.29 299.45,514.38 299.96,514.46 300.46,514.53 300.96,514.59 301.46,514.65 301.96,514.7 302.46,514.74 302.96,514.78 303.47,514.81 303.97,514.84 304.47,514.86 304.97,514.89 305.47,514.9 305.97,514.92 306.47,514.93 306.98,514.94 307.48,514.95 307.98,514.96 308.48,514.97 308.98,514.97 309.48,514.98 309.98,514.98 310.48,514.99 310.99,514.99 311.49,514.99 311.99,514.99 312.49,514.99 312.99,514.99 313.49,515 313.99,515 314.5,515 315,515 315.5,515 316,515" fill="none" stroke="#9c6ad8" stroke-width="0.9" stroke-linejoin="round"/>
<polyline points="242.8,515 243.3,515 243.8,515 244.3,515 244.81,515 245.31,515 245.81,515 246.31,514.99 246.81,514.99 247.31,514.99 247.81,514.99 248.32,514.99 248.82,514.98 249.32,514.98 249.82,514.97 250.32,514.97 250.82,514.96 251.32,514.95 251.82,514.95 252.33,514.93 252.83,514.92 253.33,514.91 253.83,514.89 254.33,514.87 254.83,514.85 255.33,514.82 255.84,514.79 256.34,514.75 256.84,514.71 257.34,514.66 257.84,514.6 258.34,514.54 258.84,514.47 259.35,514.39 259.85,514.3 260.35,514.21 260.85,514.09 261.35,513.97 261.85,513.83 262.35,513.68 262.85,513.51 263.36,513.33 263.86,513.12 264.36,512.9 264.86,512.66 265.36,512.39 265.86,512.1 266.36,511.79 266.87,511.45 267.37,511.08 267.87,510.67 268.37,510.24 268.87,509.76 269.37,509.25 269.87,508.69 270.38,508.07 270.88,507.4 271.38,506.67 271.88,505.86 272.38,504.96 272.88,503.97 273.38,502.86 273.88,501.63 274.39,500.27 274.89,498.75 275.39,497.07 275.89,495.22 276.39,493.21 276.89,491.05 277.39,488.77 277.9,486.41 278.4,484.05 278.9,481.78 279.4,479.69 279.9,477.91 280.4,476.55 280.9,475.69 281.15,475.47 281.15,475.47 281.4,475.4 281.4,475.4 281.41,475.4 281.65,475.47 281.65,475.47 281.91,475.7 282.41,476.57 282.91,477.95 283.41,479.73 283.91,481.82 284.41,484.1 284.92,486.46 285.42,488.82 285.92,491.1 286.42,493.26 286.92,495.27 287.42,497.11 287.92,498.79 288.42,500.3 288.93,501.66 289.43,502.89 289.93,503.99 290.43,504.98 290.93,505.87 291.43,506.68 291.93,507.42 292.44,508.09 292.94,508.7 293.44,509.26 293.94,509.77 294.44,510.25 294.94,510.68 295.44,511.08 295.95,511.45 296.45,511.79 296.95,512.11 297.45,512.4 297.95,512.66 298.45,512.91 298.95,513.13 299.45,513.33 299.96,513.52 300.46,513.68 300.96,513.84 301.46,513.97 301.96,514.1 302.46,514.21 302.96,514.31 303.47,514.4 303.97,514.47 304.47,514.54 304.97,514.61 305.47,514.66 305.97,514.71 306.47,514.75 306.98,514.79 307.48,514.82 307.98,514.85 308.48,514.87 308.98,514.89 309.48,514.91 309.98,514.92 310.48,514.93 310.99,514.95 311.49,514.95 311.99,514.96 312.49,514.97 312.99,514.97 313.49,514.98 313.99,514.98 314.5,514.99 315,514.99 315.5,514.99 316,514.99" fill="none" stroke="#fb9058" stroke-width="0.9" stroke-linejoin="round"/>
<rect x="242.3" y="468.8" width="74.2" height="46.2" fill="none" stroke="#8a8a8a" stroke-width="0.7"/>
<path d="M254.1 515v-1.6M254.1 468.8v1.6M266.1 515v-1.6M266.1 468.8v1.6M278.1 515v-1.6M278.1 468.8v1.6M290.1 515v-1.6M290.1 468.8v1.6M302.1 515v-1.6M302.1 468.8v1.6M314.1 515v-1.6M314.1 468.8v1.6M242.3 514.6h1.6M316.5 514.6h-1.6M242.3 507.6h1.6M316.5 507.6h-1.6M242.3 500h1.6M316.5 500h-1.6M242.3 492.5h1.6M316.5 492.5h-1.6M242.3 485h1.6M316.5 485h-1.6M242.3 477.4h1.6M316.5 477.4h-1.6M242.3 470.2h1.6M316.5 470.2h-1.6" stroke="#8a8a8a" stroke-width="0.5" fill="none"/>
<text x="256" y="521" font-size="6.8" fill="#1a1a1a" stroke="#1a1a1a" text-anchor="middle">&#8722;10</text>
<text x="267.9" y="521" font-size="6.8" fill="#1a1a1a" stroke="#1a1a1a" text-anchor="middle">&#8722;5</text>
<text x="278.1" y="521" font-size="6.8" fill="#1a1a1a" stroke="#1a1a1a" text-anchor="middle">0</text>
<text x="290.2" y="521" font-size="6.8" fill="#1a1a1a" stroke="#1a1a1a" text-anchor="middle">5</text>
<text x="302.2" y="521" font-size="6.8" fill="#1a1a1a" stroke="#1a1a1a" text-anchor="middle">10</text>
<text x="314" y="521" font-size="6.8" fill="#1a1a1a" stroke="#1a1a1a" text-anchor="middle">15</text>
<text x="242" y="517.08" font-size="7.5" fill="#1a1a1a" stroke="#1a1a1a" text-anchor="end">0</text>
<text x="242" y="509.58" font-size="6" fill="#1a1a1a" stroke="#1a1a1a" text-anchor="end">1</text>
<text x="242" y="501.98" font-size="6" fill="#1a1a1a" stroke="#1a1a1a" text-anchor="end">2</text>
<text x="242" y="494.48" font-size="6" fill="#1a1a1a" stroke="#1a1a1a" text-anchor="end">3</text>
<text x="242" y="486.98" font-size="6" fill="#1a1a1a" stroke="#1a1a1a" text-anchor="end">4</text>
<text x="242" y="479.54" font-size="6.5" fill="#1a1a1a" stroke="#1a1a1a" text-anchor="end">5</text>
<text x="242" y="472.68" font-size="7.5" fill="#1a1a1a" stroke="#1a1a1a" text-anchor="end">6</text>
<text x="280.8" y="528.2" font-size="8.2" fill="#1a1a1a" stroke="#1a1a1a" text-anchor="middle" textLength="50.91" lengthAdjust="spacingAndGlyphs">Differences /m</text>
<text x="234.5" y="491.9" font-size="7.95" fill="#1a1a1a" stroke="#1a1a1a" text-anchor="middle" transform="rotate(-90 234.5 491.9)" textLength="29.82" lengthAdjust="spacingAndGlyphs">Frequency</text>
<text x="243" y="467.6" font-size="5" fill="#1a1a1a" text-anchor="start">&#215;10<tspan dy="-2.1" font-size="4">&#8722;3</tspan></text>
<path d="M244.1 474.5h6.9" stroke="#fb9058" stroke-width="0.9"/>
<path d="M244.1 480.4h6.9" stroke="#9c6ad8" stroke-width="0.9"/>
<text x="252.8" y="476.51" font-size="6.7" fill="#1a1a1a" stroke="#1a1a1a" text-anchor="start">before</text>
<text x="252.8" y="482.41" font-size="6.7" fill="#1a1a1a" stroke="#1a1a1a" text-anchor="start">after</text>
<rect x="344.95" y="493.6" width="3.75" height="27.5" fill="#1f9af0"/>
<rect x="341.35" y="490.9" width="3.6" height="30.2" fill="#126dbd" stroke="#0d4f8c" stroke-width="0.3"/>
<rect x="359.1" y="493.6" width="3.75" height="27.5" fill="#1f9af0"/>
<rect x="355.5" y="493.75" width="3.6" height="27.35" fill="#126dbd" stroke="#0d4f8c" stroke-width="0.3"/>
<rect x="373.25" y="508" width="3.75" height="13.1" fill="#1f9af0"/>
<rect x="369.65" y="508.15" width="3.6" height="12.95" fill="#126dbd" stroke="#0d4f8c" stroke-width="0.3"/>
<rect x="387.4" y="475.1" width="3.75" height="46" fill="#1f9af0"/>
<rect x="383.8" y="472.25" width="3.6" height="48.85" fill="#126dbd" stroke="#0d4f8c" stroke-width="0.3"/>
<rect x="397.8" y="469.5" width="3.75" height="51.6" fill="#df5019"/>
<rect x="401.75" y="520.6" width="3.35" height="0.3" fill="#f4a686" stroke="#a0553a" stroke-width="0.4"/>
<rect x="411.95" y="464" width="3.75" height="57.1" fill="#df5019"/>
<rect x="415.9" y="519.2" width="3.35" height="1.7" fill="#f4a686" stroke="#a0553a" stroke-width="0.4"/>
<path d="M337.75 521.1H423" stroke="#555" stroke-width="0.6" fill="none"/>
<path d="M337.75 464H423" stroke="#9a9a9a" stroke-width="0.5" fill="none"/>
<path d="M337.75 464V521.1" stroke="#3d9be0" stroke-width="0.65" fill="none"/>
<path d="M423 464V521.1" stroke="#ee7a4c" stroke-width="0.65" fill="none"/>
<path d="M337.75 519.9h1.5M337.75 504.25h1.5M337.75 488h1.5M337.75 471.1h1.5" stroke="#3d9be0" stroke-width="0.5" fill="none"/>
<path d="M423 519.7h-1.5M423 482.6h-1.5" stroke="#ee7a4c" stroke-width="0.5" fill="none"/>
<path d="M344.95 521.1v-1.3M344.95 464v1.3M359.1 521.1v-1.3M359.1 464v1.3M373.25 521.1v-1.3M373.25 464v1.3M387.4 521.1v-1.3M387.4 464v1.3M401.55 521.1v-1.3M401.55 464v1.3M415.7 521.1v-1.3M415.7 464v1.3" stroke="#777" stroke-width="0.4" fill="none"/>
<text x="337.35" y="521.55" font-size="5" fill="#4aa0e2" stroke="#4aa0e2" text-anchor="end">0</text>
<text x="337.35" y="505.9" font-size="5" fill="#4aa0e2" stroke="#4aa0e2" text-anchor="end">2</text>
<text x="337.35" y="489.65" font-size="5" fill="#4aa0e2" stroke="#4aa0e2" text-anchor="end">4</text>
<text x="337.35" y="472.75" font-size="5" fill="#4aa0e2" stroke="#4aa0e2" text-anchor="end">6</text>
<text x="424.6" y="522.08" font-size="7.2" fill="#e4703f" stroke="#e4703f" text-anchor="start">0</text>
<text x="424.6" y="484.98" font-size="7.2" fill="#e4703f" stroke="#e4703f" text-anchor="start">1</text>
<text x="344.45" y="525.9" font-size="6.1" fill="#1a1a1a" stroke="#1a1a1a" text-anchor="middle">RMSE</text>
<text x="359.15" y="525.9" font-size="6.1" fill="#1a1a1a" stroke="#1a1a1a" text-anchor="middle">STD</text>
<text x="373.85" y="525.9" font-size="6.1" fill="#1a1a1a" stroke="#1a1a1a" text-anchor="middle">MAD</text>
<text x="388.55" y="525.9" font-size="6.1" fill="#1a1a1a" stroke="#1a1a1a" text-anchor="middle">LE90</text>
<text x="403.25" y="525.9" font-size="6.1" fill="#1a1a1a" stroke="#1a1a1a" text-anchor="middle">ME</text>
<text x="417.95" y="525.9" font-size="6.1" fill="#1a1a1a" stroke="#1a1a1a" text-anchor="middle">MED</text>
<text x="331.9" y="496.1" font-size="9.2" fill="#1a1a1a" stroke="#1a1a1a" text-anchor="middle" transform="rotate(-90 331.9 496.1)" textLength="24.85" lengthAdjust="spacingAndGlyphs">Value /m</text>
<rect x="341.1" y="468" width="6.4" height="5.5" fill="#126dbd"/>
<rect x="349.3" y="468" width="6.4" height="5.5" fill="#df5019"/>
<rect x="341.1" y="476.9" width="6.4" height="5.5" fill="#1f9af0"/>
<rect x="349.5" y="477.1" width="6" height="5.1" fill="#f4a686" stroke="#a0553a" stroke-width="0.4"/>
<text x="356.9" y="473.4" font-size="9.5" fill="#1a1a1a" stroke="#1a1a1a" text-anchor="start">before</text>
<text x="356.9" y="482.3" font-size="9.5" fill="#1a1a1a" stroke="#1a1a1a" text-anchor="start">after</text>
<text x="331.6" y="536.2" font-size="7.6" fill="#1a1a1a" stroke="#1a1a1a" text-anchor="middle">SRTM</text>
<text x="331.9" y="544.8" font-size="9" fill="#1a1a1a" stroke="#1a1a1a" text-anchor="middle">(d)</text>
</svg></body></html>
